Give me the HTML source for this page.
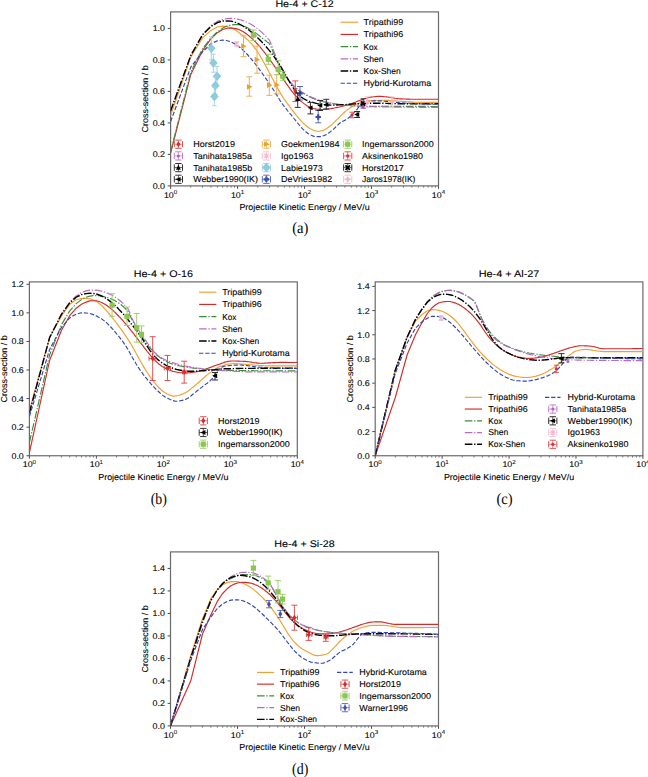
<!DOCTYPE html><html><head><meta charset="utf-8"><style>html,body{margin:0;padding:0;background:#fff;width:648px;height:777px;overflow:hidden}</style></head><body><svg width="648" height="777" viewBox="0 0 648 777" style="position:absolute;left:0;top:0;text-rendering:geometricPrecision" font-family='"Liberation Sans", sans-serif'>
<rect width="648" height="777" fill="#fff"/>
<line x1="167.7" y1="185.90" x2="170.6" y2="185.90" stroke="#333" stroke-width="0.9"/>
<text x="165.00" y="188.90" font-size="8.37" text-anchor="end" textLength="12.33" lengthAdjust="spacingAndGlyphs" fill="#000" stroke="#000" stroke-width="0.1" >0.0</text>
<line x1="167.7" y1="154.41" x2="170.6" y2="154.41" stroke="#333" stroke-width="0.9"/>
<text x="165.00" y="157.41" font-size="8.37" text-anchor="end" textLength="12.33" lengthAdjust="spacingAndGlyphs" fill="#000" stroke="#000" stroke-width="0.1" >0.2</text>
<line x1="167.7" y1="122.91" x2="170.6" y2="122.91" stroke="#333" stroke-width="0.9"/>
<text x="165.00" y="125.91" font-size="8.37" text-anchor="end" textLength="12.33" lengthAdjust="spacingAndGlyphs" fill="#000" stroke="#000" stroke-width="0.1" >0.4</text>
<line x1="167.7" y1="91.42" x2="170.6" y2="91.42" stroke="#333" stroke-width="0.9"/>
<text x="165.00" y="94.42" font-size="8.37" text-anchor="end" textLength="12.33" lengthAdjust="spacingAndGlyphs" fill="#000" stroke="#000" stroke-width="0.1" >0.6</text>
<line x1="167.7" y1="59.93" x2="170.6" y2="59.93" stroke="#333" stroke-width="0.9"/>
<text x="165.00" y="62.93" font-size="8.37" text-anchor="end" textLength="12.33" lengthAdjust="spacingAndGlyphs" fill="#000" stroke="#000" stroke-width="0.1" >0.8</text>
<line x1="167.7" y1="28.43" x2="170.6" y2="28.43" stroke="#333" stroke-width="0.9"/>
<text x="165.00" y="31.43" font-size="8.37" text-anchor="end" textLength="12.33" lengthAdjust="spacingAndGlyphs" fill="#000" stroke="#000" stroke-width="0.1" >1.0</text>
<line x1="170.60" y1="185.9" x2="170.60" y2="188.8" stroke="#333" stroke-width="0.9"/>
<text x="163.98" y="197.60" font-size="8.32" text-anchor="start" textLength="9.80" lengthAdjust="spacingAndGlyphs" fill="#000" stroke="#000" stroke-width="0.1" >10</text>
<text x="173.78" y="194.40" font-size="5.83" text-anchor="start" textLength="3.44" lengthAdjust="spacingAndGlyphs" fill="#000" stroke="#000" stroke-width="0.05" >0</text>
<line x1="190.76" y1="185.9" x2="190.76" y2="187.70000000000002" stroke="#444" stroke-width="0.7"/>
<line x1="202.56" y1="185.9" x2="202.56" y2="187.70000000000002" stroke="#444" stroke-width="0.7"/>
<line x1="210.92" y1="185.9" x2="210.92" y2="187.70000000000002" stroke="#444" stroke-width="0.7"/>
<line x1="217.41" y1="185.9" x2="217.41" y2="187.70000000000002" stroke="#444" stroke-width="0.7"/>
<line x1="222.72" y1="185.9" x2="222.72" y2="187.70000000000002" stroke="#444" stroke-width="0.7"/>
<line x1="227.20" y1="185.9" x2="227.20" y2="187.70000000000002" stroke="#444" stroke-width="0.7"/>
<line x1="231.08" y1="185.9" x2="231.08" y2="187.70000000000002" stroke="#444" stroke-width="0.7"/>
<line x1="234.51" y1="185.9" x2="234.51" y2="187.70000000000002" stroke="#444" stroke-width="0.7"/>
<line x1="237.57" y1="185.9" x2="237.57" y2="188.8" stroke="#333" stroke-width="0.9"/>
<text x="230.96" y="197.60" font-size="8.32" text-anchor="start" textLength="9.80" lengthAdjust="spacingAndGlyphs" fill="#000" stroke="#000" stroke-width="0.1" >10</text>
<text x="240.76" y="194.40" font-size="5.83" text-anchor="start" textLength="3.44" lengthAdjust="spacingAndGlyphs" fill="#000" stroke="#000" stroke-width="0.05" >1</text>
<line x1="257.74" y1="185.9" x2="257.74" y2="187.70000000000002" stroke="#444" stroke-width="0.7"/>
<line x1="269.53" y1="185.9" x2="269.53" y2="187.70000000000002" stroke="#444" stroke-width="0.7"/>
<line x1="277.90" y1="185.9" x2="277.90" y2="187.70000000000002" stroke="#444" stroke-width="0.7"/>
<line x1="284.39" y1="185.9" x2="284.39" y2="187.70000000000002" stroke="#444" stroke-width="0.7"/>
<line x1="289.69" y1="185.9" x2="289.69" y2="187.70000000000002" stroke="#444" stroke-width="0.7"/>
<line x1="294.18" y1="185.9" x2="294.18" y2="187.70000000000002" stroke="#444" stroke-width="0.7"/>
<line x1="298.06" y1="185.9" x2="298.06" y2="187.70000000000002" stroke="#444" stroke-width="0.7"/>
<line x1="301.49" y1="185.9" x2="301.49" y2="187.70000000000002" stroke="#444" stroke-width="0.7"/>
<line x1="304.55" y1="185.9" x2="304.55" y2="188.8" stroke="#333" stroke-width="0.9"/>
<text x="297.93" y="197.60" font-size="8.32" text-anchor="start" textLength="9.80" lengthAdjust="spacingAndGlyphs" fill="#000" stroke="#000" stroke-width="0.1" >10</text>
<text x="307.73" y="194.40" font-size="5.83" text-anchor="start" textLength="3.44" lengthAdjust="spacingAndGlyphs" fill="#000" stroke="#000" stroke-width="0.05" >2</text>
<line x1="324.71" y1="185.9" x2="324.71" y2="187.70000000000002" stroke="#444" stroke-width="0.7"/>
<line x1="336.51" y1="185.9" x2="336.51" y2="187.70000000000002" stroke="#444" stroke-width="0.7"/>
<line x1="344.87" y1="185.9" x2="344.87" y2="187.70000000000002" stroke="#444" stroke-width="0.7"/>
<line x1="351.36" y1="185.9" x2="351.36" y2="187.70000000000002" stroke="#444" stroke-width="0.7"/>
<line x1="356.67" y1="185.9" x2="356.67" y2="187.70000000000002" stroke="#444" stroke-width="0.7"/>
<line x1="361.15" y1="185.9" x2="361.15" y2="187.70000000000002" stroke="#444" stroke-width="0.7"/>
<line x1="365.03" y1="185.9" x2="365.03" y2="187.70000000000002" stroke="#444" stroke-width="0.7"/>
<line x1="368.46" y1="185.9" x2="368.46" y2="187.70000000000002" stroke="#444" stroke-width="0.7"/>
<line x1="371.52" y1="185.9" x2="371.52" y2="188.8" stroke="#333" stroke-width="0.9"/>
<text x="364.91" y="197.60" font-size="8.32" text-anchor="start" textLength="9.80" lengthAdjust="spacingAndGlyphs" fill="#000" stroke="#000" stroke-width="0.1" >10</text>
<text x="374.71" y="194.40" font-size="5.83" text-anchor="start" textLength="3.44" lengthAdjust="spacingAndGlyphs" fill="#000" stroke="#000" stroke-width="0.05" >3</text>
<line x1="391.69" y1="185.9" x2="391.69" y2="187.70000000000002" stroke="#444" stroke-width="0.7"/>
<line x1="403.48" y1="185.9" x2="403.48" y2="187.70000000000002" stroke="#444" stroke-width="0.7"/>
<line x1="411.85" y1="185.9" x2="411.85" y2="187.70000000000002" stroke="#444" stroke-width="0.7"/>
<line x1="418.34" y1="185.9" x2="418.34" y2="187.70000000000002" stroke="#444" stroke-width="0.7"/>
<line x1="423.64" y1="185.9" x2="423.64" y2="187.70000000000002" stroke="#444" stroke-width="0.7"/>
<line x1="428.13" y1="185.9" x2="428.13" y2="187.70000000000002" stroke="#444" stroke-width="0.7"/>
<line x1="432.01" y1="185.9" x2="432.01" y2="187.70000000000002" stroke="#444" stroke-width="0.7"/>
<line x1="435.44" y1="185.9" x2="435.44" y2="187.70000000000002" stroke="#444" stroke-width="0.7"/>
<line x1="438.50" y1="185.9" x2="438.50" y2="188.8" stroke="#333" stroke-width="0.9"/>
<text x="431.88" y="197.60" font-size="8.32" text-anchor="start" textLength="9.80" lengthAdjust="spacingAndGlyphs" fill="#000" stroke="#000" stroke-width="0.1" >10</text>
<text x="441.68" y="194.40" font-size="5.83" text-anchor="start" textLength="3.44" lengthAdjust="spacingAndGlyphs" fill="#000" stroke="#000" stroke-width="0.05" >4</text>
<rect x="170.6" y="11.9" width="267.9" height="174.0" fill="none" stroke="#6A6A6A" stroke-width="1.2"/>
<text x="304.55" y="6.90" font-size="9.64" text-anchor="middle" textLength="58.30" lengthAdjust="spacingAndGlyphs" fill="#000" stroke="#000" stroke-width="0.1" >He-4 + C-12</text>
<text x="304.55" y="209.70" font-size="8.64" text-anchor="middle" textLength="130.30" lengthAdjust="spacingAndGlyphs" fill="#000" stroke="#000" stroke-width="0.1" >Projectile Kinetic Energy / MeV/u</text>
<g transform="translate(148.10,98.90) rotate(-90)">
<text x="0.00" y="0.00" font-size="8.64" text-anchor="middle" textLength="67.20" lengthAdjust="spacingAndGlyphs" fill="#000" stroke="#000" stroke-width="0.1" >Cross-section / b</text>
</g>
<text x="300.3" y="233.2" font-family="'Liberation Serif', serif" font-size="16.0" text-anchor="middle" textLength="16.2" lengthAdjust="spacingAndGlyphs">(a)</text>
<clipPath id="ca"><rect x="170.6" y="11.9" width="267.9" height="174.0"/></clipPath><g clip-path="url(#ca)">
<path d="M170.6,115.5 L190.8,57.0 L202.6,37.9 L210.9,30.4 L217.4,27.0 L222.7,26.1 L227.2,26.6 L231.1,27.8 L234.5,29.6 L237.6,31.6 L240.3,33.7 L242.9,35.8 L245.2,37.8 L247.4,39.7 L249.4,41.6 L250.4,42.6 L251.4,43.7 L252.4,44.8 L253.4,46.1 L254.4,47.4 L255.4,48.8 L256.4,50.2 L257.4,51.7 L258.4,53.2 L259.4,54.8 L260.4,56.5 L261.4,58.2 L262.4,59.9 L263.4,61.7 L264.4,63.5 L265.4,65.3 L266.4,67.1 L267.4,69.0 L268.4,70.9 L269.4,72.8 L270.4,74.6 L271.4,76.6 L272.4,78.5 L273.4,80.3 L274.4,82.2 L275.4,84.1 L276.4,86.0 L277.4,87.8 L278.4,89.6 L279.4,91.4 L280.4,93.1 L281.4,94.8 L282.4,96.4 L283.4,98.0 L284.4,99.5 L285.4,100.9 L286.4,102.2 L287.4,103.6 L288.4,104.9 L289.4,106.3 L290.4,107.6 L291.4,109.0 L292.4,110.3 L293.4,111.6 L294.4,112.9 L295.4,114.2 L296.4,115.5 L297.4,116.7 L298.4,117.9 L299.4,119.1 L300.4,120.2 L301.4,121.3 L302.4,122.3 L303.4,123.3 L304.4,124.2 L305.4,125.2 L306.4,126.0 L307.4,126.8 L308.4,127.5 L309.4,128.2 L310.4,128.8 L311.4,129.3 L312.4,129.8 L313.4,130.3 L314.4,130.6 L315.4,130.8 L316.4,131.0 L317.4,131.2 L318.4,131.2 L319.4,131.2 L320.4,131.0 L321.4,130.8 L322.4,130.6 L323.4,130.3 L324.4,129.8 L325.4,129.3 L326.4,128.6 L327.4,128.0 L328.4,127.2 L329.4,126.5 L330.4,125.8 L331.4,125.0 L332.4,124.1 L333.4,123.1 L334.4,122.1 L335.4,121.1 L336.4,120.1 L337.4,119.1 L338.4,118.2 L339.4,117.2 L340.4,116.2 L341.4,115.2 L342.4,114.2 L343.4,113.2 L344.4,112.3 L345.4,111.4 L346.4,110.6 L347.4,109.8 L348.4,109.1 L349.4,108.3 L350.4,107.7 L351.4,107.0 L352.4,106.4 L353.4,105.8 L354.4,105.2 L355.4,104.8 L356.4,104.3 L357.4,103.9 L358.4,103.5 L359.4,103.1 L360.4,102.7 L361.4,102.4 L362.4,102.2 L363.4,101.9 L364.4,101.7 L365.4,101.5 L366.4,101.3 L367.4,101.1 L368.4,100.9 L369.4,100.8 L370.4,100.7 L371.4,100.6 L372.4,100.5 L373.4,100.4 L374.4,100.3 L375.4,100.3 L376.4,100.2 L377.4,100.2 L378.4,100.2 L379.4,100.2 L380.4,100.2 L381.4,100.2 L382.4,100.2 L383.4,100.2 L384.4,100.3 L385.4,100.3 L386.4,100.4 L387.4,100.4 L388.4,100.4 L389.4,100.5 L390.4,100.5 L391.4,100.6 L392.4,100.7 L393.4,100.7 L394.4,100.8 L395.4,100.9 L396.4,101.0 L397.4,101.1 L398.4,101.2 L399.4,101.2 L400.4,101.3 L401.4,101.4 L402.4,101.5 L403.4,101.5 L404.4,101.6 L405.4,101.6 L406.4,101.7 L407.4,101.8 L408.4,101.8 L409.4,101.9 L410.4,101.9 L411.4,102.0 L412.4,102.1 L413.4,102.1 L414.4,102.1 L415.4,102.2 L416.4,102.2 L417.4,102.2 L418.4,102.3 L419.4,102.3 L420.4,102.3 L421.4,102.3 L422.4,102.3 L423.4,102.3 L424.4,102.3 L425.4,102.3 L426.4,102.3 L427.4,102.3 L428.4,102.3 L429.4,102.3 L430.4,102.3 L431.4,102.3 L432.4,102.3 L433.4,102.3 L434.4,102.3 L435.4,102.3 L436.4,102.3 L437.4,102.3 L438.4,102.3 L438.5,102.3" fill="none" stroke="#F0A030" stroke-width="1.15" stroke-linejoin="round"/>
<path d="M170.6,153.0 L190.8,74.4 L202.6,50.5 L210.9,38.9 L217.4,32.7 L222.7,29.5 L227.2,28.2 L231.1,28.0 L234.5,28.4 L237.6,29.1 L240.3,30.3 L242.9,31.6 L245.2,33.1 L247.4,34.6 L249.4,36.2 L250.4,37.1 L251.4,38.0 L252.4,38.9 L253.4,39.8 L254.4,40.8 L255.4,41.8 L256.4,42.9 L257.4,44.0 L258.4,45.1 L259.4,46.2 L260.4,47.4 L261.4,48.6 L262.4,49.8 L263.4,51.0 L264.4,52.3 L265.4,53.6 L266.4,54.9 L267.4,56.3 L268.4,57.6 L269.4,59.0 L270.4,60.4 L271.4,61.8 L272.4,63.2 L273.4,64.7 L274.4,66.1 L275.4,67.6 L276.4,69.0 L277.4,70.5 L278.4,72.0 L279.4,73.4 L280.4,74.9 L281.4,76.4 L282.4,77.9 L283.4,79.4 L284.4,80.8 L285.4,82.2 L286.4,83.7 L287.4,85.1 L288.4,86.5 L289.4,87.9 L290.4,89.3 L291.4,90.6 L292.4,91.9 L293.4,93.1 L294.4,94.4 L295.4,95.5 L296.4,96.6 L297.4,97.7 L298.4,98.7 L299.4,99.7 L300.4,100.7 L301.4,101.6 L302.4,102.4 L303.4,103.1 L304.4,103.9 L305.4,104.6 L306.4,105.3 L307.4,105.9 L308.4,106.4 L309.4,106.9 L310.4,107.4 L311.4,107.8 L312.4,108.2 L313.4,108.6 L314.4,108.8 L315.4,108.9 L316.4,109.1 L317.4,109.2 L318.4,109.3 L319.4,109.3 L320.4,109.4 L321.4,109.5 L322.4,109.5 L323.4,109.5 L324.4,109.5 L325.4,109.5 L326.4,109.4 L327.4,109.3 L328.4,109.2 L329.4,109.0 L330.4,108.8 L331.4,108.6 L332.4,108.4 L333.4,108.2 L334.4,108.0 L335.4,107.8 L336.4,107.6 L337.4,107.4 L338.4,107.2 L339.4,107.0 L340.4,106.8 L341.4,106.5 L342.4,106.3 L343.4,106.0 L344.4,105.8 L345.4,105.5 L346.4,105.2 L347.4,104.9 L348.4,104.6 L349.4,104.3 L350.4,104.0 L351.4,103.7 L352.4,103.3 L353.4,102.9 L354.4,102.6 L355.4,102.2 L356.4,101.8 L357.4,101.3 L358.4,100.9 L359.4,100.6 L360.4,100.2 L361.4,99.8 L362.4,99.5 L363.4,99.2 L364.4,98.8 L365.4,98.5 L366.4,98.2 L367.4,97.9 L368.4,97.7 L369.4,97.4 L370.4,97.3 L371.4,97.1 L372.4,97.0 L373.4,96.8 L374.4,96.7 L375.4,96.6 L376.4,96.5 L377.4,96.4 L378.4,96.4 L379.4,96.4 L380.4,96.4 L381.4,96.4 L382.4,96.5 L383.4,96.6 L384.4,96.7 L385.4,96.8 L386.4,96.9 L387.4,97.0 L388.4,97.1 L389.4,97.3 L390.4,97.4 L391.4,97.6 L392.4,97.8 L393.4,98.0 L394.4,98.2 L395.4,98.3 L396.4,98.5 L397.4,98.6 L398.4,98.7 L399.4,98.8 L400.4,98.8 L401.4,98.9 L402.4,98.9 L403.4,99.0 L404.4,99.0 L405.4,99.0 L406.4,99.1 L407.4,99.1 L408.4,99.1 L409.4,99.1 L410.4,99.2 L411.4,99.2 L412.4,99.2 L413.4,99.2 L414.4,99.2 L415.4,99.2 L416.4,99.2 L417.4,99.2 L418.4,99.2 L419.4,99.2 L420.4,99.2 L421.4,99.2 L422.4,99.2 L423.4,99.2 L424.4,99.2 L425.4,99.2 L426.4,99.2 L427.4,99.2 L428.4,99.2 L429.4,99.2 L430.4,99.2 L431.4,99.2 L432.4,99.2 L433.4,99.2 L434.4,99.2 L435.4,99.2 L436.4,99.2 L437.4,99.2 L438.4,99.2 L438.5,99.2" fill="none" stroke="#D42A2A" stroke-width="1.15" stroke-linejoin="round"/>
<path d="M170.6,152.0 L190.8,72.0 L202.6,48.7 L210.9,37.9 L217.4,31.8 L222.7,28.1 L227.2,26.0 L231.1,25.0 L234.5,24.6 L237.6,24.6 L240.3,25.1 L242.9,25.8 L245.2,26.7 L247.4,27.8 L249.4,28.9 L250.4,29.5 L251.4,30.1 L252.4,30.7 L253.4,31.4 L254.4,32.1 L255.4,32.8 L256.4,33.6 L257.4,34.3 L258.4,35.1 L259.4,35.8 L260.4,36.6 L261.4,37.4 L262.4,38.2 L263.4,39.0 L264.4,39.8 L265.4,40.5 L266.4,41.3 L267.4,42.1 L268.4,42.8 L269.4,43.6 L269.5,43.7 L270.4,45.5 L271.4,47.8 L272.4,50.2 L273.4,52.7 L274.4,55.1 L275.4,57.3 L276.4,59.5 L277.4,61.6 L278.4,63.6 L279.4,65.7 L280.4,67.6 L281.4,69.5 L282.4,71.2 L283.4,72.9 L284.4,74.6 L285.4,76.1 L286.4,77.6 L287.4,78.9 L288.4,80.2 L289.4,81.4 L290.4,82.6 L291.4,83.7 L292.4,84.8 L293.4,85.8 L294.4,86.8 L295.4,87.6 L296.4,88.5 L297.4,89.3 L298.4,90.1 L299.4,90.8 L300.4,91.5 L301.4,92.2 L302.4,92.8 L303.4,93.5 L304.4,94.1 L305.4,94.6 L306.4,95.2 L307.4,95.7 L308.4,96.2 L309.4,96.7 L310.4,97.2 L311.4,97.7 L312.4,98.1 L313.4,98.5 L314.4,98.9 L315.4,99.3 L316.4,99.6 L317.4,100.0 L318.4,100.3 L319.4,100.6 L320.4,100.9 L321.4,101.2 L322.4,101.5 L323.4,101.8 L324.4,102.0 L325.4,102.3 L326.4,102.5 L327.4,102.7 L328.4,102.9 L329.4,103.1 L330.4,103.3 L331.4,103.5 L332.4,103.6 L333.4,103.8 L334.4,104.0 L335.4,104.1 L336.4,104.2 L337.4,104.4 L338.4,104.5 L339.4,104.6 L340.4,104.7 L341.4,104.8 L342.4,104.9 L343.4,105.0 L344.4,105.1 L345.4,105.2 L346.4,105.3 L347.4,105.3 L348.4,105.4 L349.4,105.5 L350.4,105.6 L351.4,105.7 L352.4,105.7 L353.4,105.8 L354.4,105.9 L355.4,105.9 L356.4,106.0 L357.4,106.1 L358.4,106.1 L359.4,106.1 L360.4,106.2 L361.4,106.2 L362.4,106.2 L363.4,106.3 L364.4,106.3 L365.4,106.3 L366.4,106.3 L367.4,106.3 L368.4,106.3 L369.4,106.3 L370.4,106.3 L371.4,106.3 L372.4,106.3 L373.4,106.3 L374.4,106.3 L375.4,106.3 L376.4,106.3 L377.4,106.3 L378.4,106.3 L379.4,106.3 L380.4,106.3 L381.4,106.3 L382.4,106.3 L383.4,106.3 L384.4,106.3 L385.4,106.3 L386.4,106.3 L387.4,106.3 L388.4,106.3 L389.4,106.3 L390.4,106.3 L391.4,106.3 L392.4,106.3 L393.4,106.3 L394.4,106.3 L395.4,106.3 L396.4,106.3 L397.4,106.3 L398.4,106.3 L399.4,106.3 L400.4,106.3 L401.4,106.3 L402.4,106.3 L403.4,106.3 L404.4,106.3 L405.4,106.3 L406.4,106.3 L407.4,106.3 L408.4,106.3 L409.4,106.3 L410.4,106.3 L411.4,106.3 L412.4,106.3 L413.4,106.3 L414.4,106.3 L415.4,106.4 L416.4,106.4 L417.4,106.4 L418.4,106.4 L419.4,106.4 L420.4,106.4 L421.4,106.4 L422.4,106.4 L423.4,106.4 L424.4,106.4 L425.4,106.4 L426.4,106.4 L427.4,106.4 L428.4,106.4 L429.4,106.5 L430.4,106.5 L431.4,106.5 L432.4,106.5 L433.4,106.5 L434.4,106.5 L435.4,106.5 L436.4,106.5 L437.4,106.5 L438.4,106.5 L438.5,106.5" fill="none" stroke="#3C8D3C" stroke-width="1.15" stroke-dasharray="7.6,1.7,1.3,1.7" stroke-linejoin="round"/>
<path d="M170.6,111.0 L190.8,55.5 L202.6,34.6 L210.9,25.6 L217.4,21.4 L222.7,19.4 L227.2,18.5 L231.1,18.4 L234.5,18.5 L237.6,19.1 L240.3,19.8 L242.9,20.6 L245.2,21.5 L247.4,22.4 L249.4,23.5 L250.4,24.0 L251.4,24.6 L252.4,25.2 L253.4,25.8 L254.4,26.5 L255.4,27.2 L256.4,27.9 L257.4,28.7 L258.4,29.4 L259.4,30.3 L260.4,31.1 L261.4,32.0 L262.4,32.9 L263.4,33.9 L264.4,34.8 L265.4,35.8 L266.4,36.9 L267.4,37.9 L268.4,39.1 L269.4,40.2 L269.5,40.5 L270.4,42.3 L271.4,44.8 L272.4,47.4 L273.4,50.1 L274.4,52.7 L275.4,55.2 L276.4,57.7 L277.4,60.1 L278.4,62.4 L279.4,64.6 L280.4,66.7 L281.4,68.6 L282.4,70.5 L283.4,72.3 L284.4,74.0 L285.4,75.6 L286.4,77.1 L287.4,78.5 L288.4,79.8 L289.4,81.0 L290.4,82.2 L291.4,83.3 L292.4,84.4 L293.4,85.4 L294.4,86.4 L295.4,87.3 L296.4,88.1 L297.4,88.9 L298.4,89.6 L299.4,90.3 L300.4,91.0 L301.4,91.7 L302.4,92.3 L303.4,92.9 L304.4,93.5 L305.4,94.1 L306.4,94.6 L307.4,95.1 L308.4,95.6 L309.4,96.1 L310.4,96.6 L311.4,97.1 L312.4,97.5 L313.4,97.9 L314.4,98.3 L315.4,98.7 L316.4,99.1 L317.4,99.4 L318.4,99.8 L319.4,100.1 L320.4,100.4 L321.4,100.7 L322.4,101.0 L323.4,101.2 L324.4,101.5 L325.4,101.8 L326.4,102.0 L327.4,102.2 L328.4,102.5 L329.4,102.7 L330.4,102.9 L331.4,103.1 L332.4,103.2 L333.4,103.4 L334.4,103.6 L335.4,103.7 L336.4,103.9 L337.4,104.0 L338.4,104.2 L339.4,104.3 L340.4,104.4 L341.4,104.6 L342.4,104.7 L343.4,104.8 L344.4,104.9 L345.4,105.0 L346.4,105.1 L347.4,105.2 L348.4,105.3 L349.4,105.4 L350.4,105.5 L351.4,105.6 L352.4,105.7 L353.4,105.8 L354.4,105.9 L355.4,105.9 L356.4,106.0 L357.4,106.1 L358.4,106.2 L359.4,106.2 L360.4,106.3 L361.4,106.4 L362.4,106.4 L363.4,106.5 L364.4,106.5 L365.4,106.5 L366.4,106.6 L367.4,106.6 L368.4,106.6 L369.4,106.6 L370.4,106.7 L371.4,106.7 L372.4,106.7 L373.4,106.7 L374.4,106.8 L375.4,106.8 L376.4,106.8 L377.4,106.8 L378.4,106.8 L379.4,106.9 L380.4,106.9 L381.4,106.9 L382.4,106.9 L383.4,106.9 L384.4,106.9 L385.4,107.0 L386.4,107.0 L387.4,107.0 L388.4,107.0 L389.4,107.0 L390.4,107.0 L391.4,107.0 L392.4,107.1 L393.4,107.1 L394.4,107.1 L395.4,107.1 L396.4,107.1 L397.4,107.1 L398.4,107.1 L399.4,107.1 L400.4,107.1 L401.4,107.1 L402.4,107.2 L403.4,107.2 L404.4,107.2 L405.4,107.2 L406.4,107.2 L407.4,107.2 L408.4,107.2 L409.4,107.2 L410.4,107.2 L411.4,107.2 L412.4,107.3 L413.4,107.3 L414.4,107.3 L415.4,107.3 L416.4,107.3 L417.4,107.3 L418.4,107.3 L419.4,107.3 L420.4,107.3 L421.4,107.3 L422.4,107.3 L423.4,107.3 L424.4,107.3 L425.4,107.3 L426.4,107.4 L427.4,107.4 L428.4,107.4 L429.4,107.4 L430.4,107.4 L431.4,107.4 L432.4,107.4 L433.4,107.4 L434.4,107.4 L435.4,107.4 L436.4,107.4 L437.4,107.4 L438.4,107.4 L438.5,107.4" fill="none" stroke="#BA6CC4" stroke-width="1.15" stroke-dasharray="7.6,1.7,1.3,1.7" stroke-linejoin="round"/>
<path d="M170.6,111.0 L190.8,55.5 L202.6,34.6 L210.9,26.5 L217.4,22.6 L222.7,21.0 L227.2,21.0 L231.1,21.1 L234.5,22.1 L237.6,23.2 L240.3,24.6 L242.9,26.0 L245.2,27.5 L247.4,29.0 L249.4,30.5 L250.4,31.3 L251.4,32.1 L252.4,33.0 L253.4,33.8 L254.4,34.7 L255.4,35.6 L256.4,36.6 L257.4,37.5 L258.4,38.5 L259.4,39.5 L260.4,40.5 L261.4,41.5 L262.4,42.6 L263.4,43.6 L264.4,44.7 L265.4,45.9 L266.4,47.0 L267.4,48.2 L268.4,49.4 L269.4,50.6 L270.4,51.8 L271.4,53.1 L272.4,54.4 L273.4,55.8 L274.4,57.1 L275.4,58.5 L276.4,60.0 L277.4,61.4 L278.4,63.0 L279.4,64.5 L280.4,66.1 L281.4,67.7 L282.4,69.3 L283.4,71.0 L284.4,72.7 L285.4,74.5 L286.4,76.3 L287.4,78.1 L288.4,79.8 L289.4,81.6 L290.4,83.3 L291.4,85.0 L292.4,86.6 L293.4,88.2 L294.4,89.7 L295.4,91.1 L296.4,92.4 L297.4,93.5 L298.4,94.6 L299.4,95.5 L300.4,96.4 L301.4,97.2 L302.4,97.9 L303.4,98.5 L304.4,99.1 L305.4,99.6 L306.4,100.1 L307.4,100.5 L308.4,100.9 L309.4,101.3 L310.4,101.7 L311.4,102.0 L312.4,102.3 L313.4,102.6 L314.4,102.9 L315.4,103.2 L316.4,103.4 L317.4,103.7 L318.4,103.9 L319.4,104.1 L320.4,104.2 L321.4,104.3 L322.4,104.4 L323.4,104.6 L324.4,104.7 L325.4,104.8 L326.4,104.8 L327.4,104.9 L328.4,105.0 L329.4,105.0 L330.4,105.1 L331.4,105.1 L332.4,105.1 L333.4,105.1 L334.4,105.1 L335.4,105.0 L336.4,105.0 L337.4,105.0 L338.4,104.9 L339.4,104.9 L340.4,104.8 L341.4,104.8 L342.4,104.7 L343.4,104.7 L344.4,104.6 L345.4,104.6 L346.4,104.5 L347.4,104.4 L348.4,104.4 L349.4,104.3 L350.4,104.2 L351.4,104.1 L352.4,104.0 L353.4,104.0 L354.4,103.9 L355.4,103.8 L356.4,103.8 L357.4,103.7 L358.4,103.7 L359.4,103.6 L360.4,103.6 L361.4,103.5 L362.4,103.5 L363.4,103.5 L364.4,103.4 L365.4,103.4 L366.4,103.4 L367.4,103.4 L368.4,103.4 L369.4,103.4 L370.4,103.3 L371.4,103.3 L372.4,103.3 L373.4,103.3 L374.4,103.3 L375.4,103.3 L376.4,103.3 L377.4,103.3 L378.4,103.3 L379.4,103.3 L380.4,103.3 L381.4,103.3 L382.4,103.3 L383.4,103.3 L384.4,103.4 L385.4,103.4 L386.4,103.4 L387.4,103.4 L388.4,103.5 L389.4,103.5 L390.4,103.5 L391.4,103.5 L392.4,103.6 L393.4,103.6 L394.4,103.6 L395.4,103.6 L396.4,103.7 L397.4,103.7 L398.4,103.7 L399.4,103.7 L400.4,103.7 L401.4,103.7 L402.4,103.7 L403.4,103.7 L404.4,103.8 L405.4,103.8 L406.4,103.8 L407.4,103.8 L408.4,103.8 L409.4,103.8 L410.4,103.8 L411.4,103.8 L412.4,103.8 L413.4,103.8 L414.4,103.8 L415.4,103.8 L416.4,103.8 L417.4,103.8 L418.4,103.8 L419.4,103.8 L420.4,103.8 L421.4,103.8 L422.4,103.8 L423.4,103.8 L424.4,103.8 L425.4,103.8 L426.4,103.8 L427.4,103.8 L428.4,103.8 L429.4,103.8 L430.4,103.8 L431.4,103.8 L432.4,103.8 L433.4,103.8 L434.4,103.8 L435.4,103.8 L436.4,103.8 L437.4,103.8 L438.4,103.8 L438.5,103.8" fill="none" stroke="#000000" stroke-width="1.4" stroke-dasharray="7.6,1.7,1.3,1.7" stroke-linejoin="round"/>
<path d="M170.6,121.5 L190.8,67.1 L202.6,51.8 L210.9,43.7 L217.4,40.8 L222.7,40.1 L227.2,40.7 L231.1,41.9 L234.5,43.7 L237.6,45.7 L240.3,47.8 L242.9,50.0 L245.2,52.3 L247.4,54.5 L249.4,56.8 L250.4,57.9 L251.4,59.1 L252.4,60.3 L253.4,61.5 L254.4,62.8 L255.4,64.0 L256.4,65.3 L257.4,66.7 L258.4,68.0 L259.4,69.4 L260.4,70.8 L261.4,72.2 L262.4,73.6 L263.4,75.0 L264.4,76.4 L265.4,77.9 L266.4,79.3 L267.4,80.8 L268.4,82.3 L269.4,83.7 L270.4,85.2 L271.4,86.7 L272.4,88.2 L273.4,89.7 L274.4,91.2 L275.4,92.8 L276.4,94.4 L277.4,96.1 L278.4,97.8 L279.4,99.5 L280.4,101.1 L281.4,102.6 L282.4,104.0 L283.4,105.4 L284.4,106.7 L285.4,108.0 L286.4,109.2 L287.4,110.5 L288.4,111.7 L289.4,112.9 L290.4,114.0 L291.4,115.2 L292.4,116.5 L293.4,117.7 L294.4,119.0 L295.4,120.2 L296.4,121.5 L297.4,122.7 L298.4,124.0 L299.4,125.2 L300.4,126.3 L301.4,127.5 L302.4,128.6 L303.4,129.6 L304.4,130.5 L305.4,131.4 L306.4,132.2 L307.4,133.0 L308.4,133.7 L309.4,134.3 L310.4,134.8 L311.4,135.3 L312.4,135.7 L313.4,136.1 L314.4,136.4 L315.4,136.6 L316.4,136.6 L317.4,136.6 L318.4,136.6 L319.4,136.6 L320.4,136.6 L321.4,136.4 L322.4,136.1 L323.4,135.8 L324.4,135.4 L325.4,135.0 L326.4,134.4 L327.4,133.8 L328.4,133.2 L329.4,132.4 L330.4,131.7 L331.4,130.9 L332.4,130.1 L333.4,129.3 L334.4,128.4 L335.4,127.4 L336.4,126.4 L337.4,125.4 L338.4,124.4 L339.4,123.5 L340.4,122.7 L341.4,122.1 L342.4,121.6 L343.4,121.0 L344.4,120.5 L345.4,120.0 L346.4,119.4 L347.4,118.7 L348.4,118.0 L349.4,117.2 L350.4,116.3 L351.4,115.3 L352.4,114.3 L353.4,113.3 L354.4,112.3 L355.4,111.2 L356.4,110.1 L357.4,108.8 L358.4,107.4 L359.4,106.1 L360.4,105.0 L361.4,104.2 L362.4,103.5 L363.4,103.0 L364.4,102.5 L365.4,102.1 L366.4,101.7 L367.4,101.5 L368.4,101.4 L369.4,101.2 L370.4,101.1 L371.4,101.0 L372.4,101.0 L373.4,100.9 L374.4,100.8 L375.4,100.8 L376.4,100.8 L377.4,100.8 L378.4,100.8 L379.4,100.8 L380.4,100.9 L381.4,100.9 L382.4,101.0 L383.4,101.1 L384.4,101.2 L385.4,101.3 L386.4,101.3 L387.4,101.4 L388.4,101.5 L389.4,101.6 L390.4,101.7 L391.4,101.8 L392.4,101.9 L393.4,102.1 L394.4,102.2 L395.4,102.3 L396.4,102.4 L397.4,102.5 L398.4,102.6 L399.4,102.7 L400.4,102.8 L401.4,102.8 L402.4,102.9 L403.4,103.0 L404.4,103.0 L405.4,103.1 L406.4,103.1 L407.4,103.2 L408.4,103.2 L409.4,103.3 L410.4,103.3 L411.4,103.4 L412.4,103.4 L413.4,103.5 L414.4,103.5 L415.4,103.6 L416.4,103.6 L417.4,103.6 L418.4,103.7 L419.4,103.7 L420.4,103.8 L421.4,103.8 L422.4,103.8 L423.4,103.9 L424.4,103.9 L425.4,103.9 L426.4,104.0 L427.4,104.0 L428.4,104.0 L429.4,104.1 L430.4,104.1 L431.4,104.1 L432.4,104.2 L433.4,104.2 L434.4,104.2 L435.4,104.2 L436.4,104.3 L437.4,104.3 L438.4,104.3 L438.5,104.3" fill="none" stroke="#3346B0" stroke-width="1.15" stroke-dasharray="4.3,1.85" stroke-linejoin="round"/>
<path d="M211.3,36.7 V59.9 M209.0,36.7 h4.6 M209.0,59.9 h4.6" stroke="#9ED3E2" stroke-width="0.95" fill="none"/>
<path d="M211.3,43.56999999999999 L215.60000000000002,48.3 L211.3,53.03 L207.0,48.3 Z" fill="#8ECCDD"/>
<path d="M213.4,54.2 V72.2 M211.1,54.2 h4.6 M211.1,72.2 h4.6" stroke="#9ED3E2" stroke-width="0.95" fill="none"/>
<path d="M213.4,58.269999999999996 L217.70000000000002,63 L213.4,67.73 L209.1,63 Z" fill="#8ECCDD"/>
<path d="M217,66.6 V86 M214.7,66.6 h4.6 M214.7,86 h4.6" stroke="#9ED3E2" stroke-width="0.95" fill="none"/>
<path d="M217,71.57 L221.3,76.3 L217,81.03 L212.7,76.3 Z" fill="#8ECCDD"/>
<path d="M215.4,77 V94 M213.1,77 h4.6 M213.1,94 h4.6" stroke="#9ED3E2" stroke-width="0.95" fill="none"/>
<path d="M215.4,80.86999999999999 L219.70000000000002,85.6 L215.4,90.33 L211.1,85.6 Z" fill="#8ECCDD"/>
<path d="M214.4,87.2 V105.7 M212.1,87.2 h4.6 M212.1,105.7 h4.6" stroke="#9ED3E2" stroke-width="0.95" fill="none"/>
<path d="M214.4,91.67 L218.70000000000002,96.4 L214.4,101.13000000000001 L210.1,96.4 Z" fill="#8ECCDD"/>
<path d="M236.7,41.7 V46.7 M234.39999999999998,41.7 h4.6 M234.39999999999998,46.7 h4.6" stroke="#F3C0D2" stroke-width="0.95" fill="none"/>
<path d="M234.5,41.8 L238.89999999999998,46.2 M238.89999999999998,41.8 L234.5,46.2 M236.7,41.36 L236.7,46.64" stroke="#F2B6CB" stroke-width="1.1"/>
<path d="M243.5,35.9 V56.6 M240.5,35.9 h6.0 M240.5,56.6 h6.0" stroke="#EEAE4D" stroke-width="0.95" fill="none"/>
<path d="M246.62,46.2 L241.16,43.34 L241.16,49.06 Z" fill="#EBA02E"/>
<path d="M257,46.2 V73.2 M254.0,46.2 h6.0 M254.0,73.2 h6.0" stroke="#EEAE4D" stroke-width="0.95" fill="none"/>
<path d="M260.12,59.7 L254.66,56.84 L254.66,62.56 Z" fill="#EBA02E"/>
<path d="M249.3,76.8 V96.2 M246.3,76.8 h6.0 M246.3,96.2 h6.0" stroke="#EEAE4D" stroke-width="0.95" fill="none"/>
<path d="M252.42000000000002,86.8 L246.96,83.94 L246.96,89.66 Z" fill="#EBA02E"/>
<path d="M269.3,75.1 V95.4 M266.3,75.1 h6.0 M266.3,95.4 h6.0" stroke="#EEAE4D" stroke-width="0.95" fill="none"/>
<path d="M272.42,85.2 L266.96000000000004,82.34 L266.96000000000004,88.06 Z" fill="#EBA02E"/>
<path d="M276.7,74.8 V93.9 M273.7,74.8 h6.0 M273.7,93.9 h6.0" stroke="#EEAE4D" stroke-width="0.95" fill="none"/>
<path d="M279.82,84.9 L274.36,82.04 L274.36,87.76 Z" fill="#EBA02E"/>
<path d="M253.4,30 V40.5 M250.4,30 h6.0 M250.4,40.5 h6.0" stroke="#9DCE6B" stroke-width="0.95" fill="none"/>
<rect x="250.8" y="32.4" width="5.2" height="5.2" fill="#8CC652"/>
<path d="M268.3,54.3 V64.3 M265.3,54.3 h6.0 M265.3,64.3 h6.0" stroke="#9DCE6B" stroke-width="0.95" fill="none"/>
<rect x="265.7" y="56.699999999999996" width="5.2" height="5.2" fill="#8CC652"/>
<path d="M278.2,60.6 V74.5 M275.2,60.6 h6.0 M275.2,74.5 h6.0" stroke="#9DCE6B" stroke-width="0.95" fill="none"/>
<rect x="275.59999999999997" y="66.9" width="5.2" height="5.2" fill="#8CC652"/>
<path d="M282.8,71.7 V80.3 M279.8,71.7 h6.0 M279.8,80.3 h6.0" stroke="#9DCE6B" stroke-width="0.95" fill="none"/>
<rect x="280.2" y="73.7" width="5.2" height="5.2" fill="#8CC652"/>
<path d="M295.3,80.9 V101.6 M292.3,80.9 h6.0 M292.3,101.6 h6.0" stroke="#DC4A4A" stroke-width="0.95" fill="none"/>
<path d="M295.3,87.8 L297.3,90.8 L295.3,93.8 L293.3,90.8 Z" fill="#D62B2B"/>
<path d="M300,86.5 V100 M297.0,86.5 h6.0 M297.0,100 h6.0" stroke="#5766B5" stroke-width="0.95" fill="none"/>
<path d="M298.92,90.8 h2.16 v1.62 h1.62 v2.16 h-1.62 v1.62 h-2.16 v-1.62 h-1.62 v-2.16 h1.62 Z" fill="#3A4BA8"/>
<path d="M318.2,110.5 V122.8 M315.2,110.5 h6.0 M315.2,122.8 h6.0" stroke="#5766B5" stroke-width="0.95" fill="none"/>
<path d="M317.12,114.3 h2.16 v1.62 h1.62 v2.16 h-1.62 v1.62 h-2.16 v-1.62 h-1.62 v-2.16 h1.62 Z" fill="#3A4BA8"/>
<path d="M297.7,93 V107.4 M294.7,93 h6.0 M294.7,107.4 h6.0" stroke="#262626" stroke-width="0.95" fill="none"/>
<path d="M297.7,96.02000000000001 L300.09999999999997,101.06 L295.3,101.06 Z" fill="#000000"/>
<path d="M310.4,102.4 V113.9 M307.4,102.4 h6.0 M307.4,113.9 h6.0" stroke="#262626" stroke-width="0.95" fill="none"/>
<path d="M307.52,107.8 L312.56,105.39999999999999 L312.56,110.2 Z" fill="#000000"/>
<path d="M320.1,100.5 V110.5 M317.1,100.5 h6.0 M317.1,110.5 h6.0" stroke="#262626" stroke-width="0.95" fill="none"/>
<path d="M317.22,105.4 L322.26000000000005,103.0 L322.26000000000005,107.80000000000001 Z" fill="#000000"/>
<path d="M326.3,99.3 V108.9 M323.3,99.3 h6.0 M323.3,108.9 h6.0" stroke="#262626" stroke-width="0.95" fill="none"/>
<path d="M323.42,104.7 L328.46000000000004,102.3 L328.46000000000004,107.10000000000001 Z" fill="#000000"/>
<path d="M357.1,111.5 V117.5 M354.1,111.5 h6.0 M354.1,117.5 h6.0" stroke="#262626" stroke-width="0.95" fill="none"/>
<path d="M354.22,114.5 L359.26000000000005,112.1 L359.26000000000005,116.9 Z" fill="#000000"/>
<path d="M352,112.2 V117.8 M349.5,112.2 h5.0 M349.5,117.8 h5.0" stroke="#E14F4F" stroke-width="0.95" fill="none"/>
<circle cx="352" cy="115" r="1.6" fill="#DC3030"/>
<path d="M363.1,98.8 V108 M360.6,98.8 h5.0 M360.6,108 h5.0" stroke="#262626" stroke-width="0.95" fill="none"/>
<path d="M360.90000000000003,101.2 L365.3,105.60000000000001 M365.3,101.2 L360.90000000000003,105.60000000000001" stroke="#000000" stroke-width="1.8"/>
<circle cx="364" cy="107.6" r="1.5" fill="#B25FC2"/>
<path d="M366.9,96.9 V107.6 M364.4,96.9 h5.0 M364.4,107.6 h5.0" stroke="#F3BECE" stroke-width="0.95" fill="none"/>
<path d="M365.94,99.6 h1.92 v1.44 h1.44 v1.92 h-1.44 v1.44 h-1.92 v-1.44 h-1.44 v-1.92 h1.44 Z" fill="#F2B3C6"/>
<path d="M391.9,96.9 V107.6 M389.4,96.9 h5.0 M389.4,107.6 h5.0" stroke="#F3BECE" stroke-width="0.95" fill="none"/>
<path d="M390.94,99.6 h1.92 v1.44 h1.44 v1.92 h-1.44 v1.44 h-1.92 v-1.44 h-1.44 v-1.92 h1.44 Z" fill="#F2B3C6"/>
</g>
<line x1="340.6" y1="22.2" x2="358" y2="22.2" stroke="#F0A030" stroke-width="1.15"/>
<text x="363.60" y="25.10" font-size="8.59" text-anchor="start" textLength="39.56" lengthAdjust="spacingAndGlyphs" fill="#000" stroke="#000" stroke-width="0.1" >Tripathi99</text>
<line x1="340.6" y1="34.4" x2="358" y2="34.4" stroke="#D42A2A" stroke-width="1.15"/>
<text x="363.60" y="37.30" font-size="8.59" text-anchor="start" textLength="39.56" lengthAdjust="spacingAndGlyphs" fill="#000" stroke="#000" stroke-width="0.1" >Tripathi96</text>
<line x1="340.6" y1="46.599999999999994" x2="358" y2="46.599999999999994" stroke="#3C8D3C" stroke-width="1.15" stroke-dasharray="7.6,1.7,1.3,1.7"/>
<text x="363.60" y="49.50" font-size="8.59" text-anchor="start" textLength="14.14" lengthAdjust="spacingAndGlyphs" fill="#000" stroke="#000" stroke-width="0.1" >Kox</text>
<line x1="340.6" y1="58.8" x2="358" y2="58.8" stroke="#BA6CC4" stroke-width="1.15" stroke-dasharray="7.6,1.7,1.3,1.7"/>
<text x="363.60" y="61.70" font-size="8.59" text-anchor="start" textLength="20.02" lengthAdjust="spacingAndGlyphs" fill="#000" stroke="#000" stroke-width="0.1" >Shen</text>
<line x1="340.6" y1="71.0" x2="358" y2="71.0" stroke="#000000" stroke-width="1.4" stroke-dasharray="7.6,1.7,1.3,1.7"/>
<text x="363.60" y="73.90" font-size="8.59" text-anchor="start" textLength="37.03" lengthAdjust="spacingAndGlyphs" fill="#000" stroke="#000" stroke-width="0.1" >Kox-Shen</text>
<line x1="340.6" y1="83.2" x2="358" y2="83.2" stroke="#3346B0" stroke-width="1.15" stroke-dasharray="4.3,1.85"/>
<text x="363.60" y="86.10" font-size="8.59" text-anchor="start" textLength="67.54" lengthAdjust="spacingAndGlyphs" fill="#000" stroke="#000" stroke-width="0.1" >Hybrid-Kurotama</text>
<path d="M174.3,144.2 H182.5 M178.4,140.1 V148.29999999999998" stroke="#DE5555" stroke-width="0.8" fill="none"/>
<path d="M175.20000000000002,140.1 H181.6 M175.20000000000002,148.29999999999998 H181.6 M174.3,141.0 V147.39999999999998 M182.5,141.0 V147.39999999999998" stroke="#DE5555" stroke-width="1" fill="none"/>
<path d="M178.4,141.2 L180.4,144.2 L178.4,147.2 L176.4,144.2 Z" fill="#D62B2B"/>
<text x="193.30" y="147.10" font-size="8.59" text-anchor="start" textLength="41.60" lengthAdjust="spacingAndGlyphs" fill="#000" stroke="#000" stroke-width="0.1" >Horst2019</text>
<path d="M174.3,155.9 H182.5 M178.4,151.8 V160.0" stroke="#C17FCE" stroke-width="0.8" fill="none"/>
<path d="M175.20000000000002,151.8 H181.6 M175.20000000000002,160.0 H181.6 M174.3,152.70000000000002 V159.1 M182.5,152.70000000000002 V159.1" stroke="#C17FCE" stroke-width="1" fill="none"/>
<circle cx="178.4" cy="155.9" r="1.5" fill="#B25FC2"/>
<text x="193.30" y="158.80" font-size="8.59" text-anchor="start" textLength="58.66" lengthAdjust="spacingAndGlyphs" fill="#000" stroke="#000" stroke-width="0.1" >Tanihata1985a</text>
<path d="M174.3,167.6 H182.5 M178.4,163.5 V171.7" stroke="#333333" stroke-width="0.8" fill="none"/>
<path d="M175.20000000000002,163.5 H181.6 M175.20000000000002,171.7 H181.6 M174.3,164.4 V170.79999999999998 M182.5,164.4 V170.79999999999998" stroke="#333333" stroke-width="1" fill="none"/>
<path d="M178.4,164.72 L180.8,169.76 L176.0,169.76 Z" fill="#000000"/>
<text x="193.30" y="170.50" font-size="8.59" text-anchor="start" textLength="58.84" lengthAdjust="spacingAndGlyphs" fill="#000" stroke="#000" stroke-width="0.1" >Tanihata1985b</text>
<path d="M174.3,179.3 H182.5 M178.4,175.20000000000002 V183.4" stroke="#333333" stroke-width="0.8" fill="none"/>
<path d="M175.20000000000002,175.20000000000002 H181.6 M175.20000000000002,183.4 H181.6 M174.3,176.10000000000002 V182.5 M182.5,176.10000000000002 V182.5" stroke="#333333" stroke-width="1" fill="none"/>
<path d="M175.52,179.3 L180.56,176.9 L180.56,181.70000000000002 Z" fill="#000000"/>
<text x="193.30" y="182.20" font-size="8.59" text-anchor="start" textLength="64.53" lengthAdjust="spacingAndGlyphs" fill="#000" stroke="#000" stroke-width="0.1" >Webber1990(IK)</text>
<path d="M262.29999999999995,144.2 H270.5 M266.4,140.1 V148.29999999999998" stroke="#EFB357" stroke-width="0.8" fill="none"/>
<path d="M263.19999999999993,140.1 H269.6 M263.19999999999993,148.29999999999998 H269.6 M262.29999999999995,141.0 V147.39999999999998 M270.5,141.0 V147.39999999999998" stroke="#EFB357" stroke-width="1" fill="none"/>
<path d="M269.52,144.2 L264.06,141.33999999999997 L264.06,147.06 Z" fill="#EBA02E"/>
<text x="281.00" y="147.10" font-size="8.59" text-anchor="start" textLength="58.43" lengthAdjust="spacingAndGlyphs" fill="#000" stroke="#000" stroke-width="0.1" >Goekmen1984</text>
<path d="M262.29999999999995,155.9 H270.5 M266.4,151.8 V160.0" stroke="#F4C4D5" stroke-width="0.8" fill="none"/>
<path d="M263.19999999999993,151.8 H269.6 M263.19999999999993,160.0 H269.6 M262.29999999999995,152.70000000000002 V159.1 M270.5,152.70000000000002 V159.1" stroke="#F4C4D5" stroke-width="1" fill="none"/>
<path d="M264.2,153.70000000000002 L268.59999999999997,158.1 M268.59999999999997,153.70000000000002 L264.2,158.1 M266.4,153.26000000000002 L266.4,158.54" stroke="#F2B6CB" stroke-width="1.1"/>
<text x="281.00" y="158.80" font-size="8.59" text-anchor="start" textLength="32.49" lengthAdjust="spacingAndGlyphs" fill="#000" stroke="#000" stroke-width="0.1" >Igo1963</text>
<path d="M262.29999999999995,167.6 H270.5 M266.4,163.5 V171.7" stroke="#A4D6E3" stroke-width="0.8" fill="none"/>
<path d="M263.19999999999993,163.5 H269.6 M263.19999999999993,171.7 H269.6 M262.29999999999995,164.4 V170.79999999999998 M270.5,164.4 V170.79999999999998" stroke="#A4D6E3" stroke-width="1" fill="none"/>
<path d="M266.4,162.87 L270.7,167.6 L266.4,172.32999999999998 L262.09999999999997,167.6 Z" fill="#8ECCDD"/>
<text x="281.00" y="170.50" font-size="8.59" text-anchor="start" textLength="41.68" lengthAdjust="spacingAndGlyphs" fill="#000" stroke="#000" stroke-width="0.1" >Labie1973</text>
<path d="M262.29999999999995,179.3 H270.5 M266.4,175.20000000000002 V183.4" stroke="#616FB9" stroke-width="0.8" fill="none"/>
<path d="M263.19999999999993,175.20000000000002 H269.6 M263.19999999999993,183.4 H269.6 M262.29999999999995,176.10000000000002 V182.5 M270.5,176.10000000000002 V182.5" stroke="#616FB9" stroke-width="1" fill="none"/>
<path d="M265.32,176.60000000000002 h2.16 v1.62 h1.62 v2.16 h-1.62 v1.62 h-2.16 v-1.62 h-1.62 v-2.16 h1.62 Z" fill="#3A4BA8"/>
<text x="281.00" y="182.20" font-size="8.59" text-anchor="start" textLength="51.19" lengthAdjust="spacingAndGlyphs" fill="#000" stroke="#000" stroke-width="0.1" >DeVries1982</text>
<path d="M343.59999999999997,144.2 H351.8 M347.7,140.1 V148.29999999999998" stroke="#A3D174" stroke-width="0.8" fill="none"/>
<path d="M344.49999999999994,140.1 H350.90000000000003 M344.49999999999994,148.29999999999998 H350.90000000000003 M343.59999999999997,141.0 V147.39999999999998 M351.8,141.0 V147.39999999999998" stroke="#A3D174" stroke-width="1" fill="none"/>
<rect x="345.09999999999997" y="141.6" width="5.2" height="5.2" fill="#8CC652"/>
<text x="362.10" y="147.10" font-size="8.59" text-anchor="start" textLength="71.63" lengthAdjust="spacingAndGlyphs" fill="#000" stroke="#000" stroke-width="0.1" >Ingemarsson2000</text>
<path d="M343.59999999999997,155.9 H351.8 M347.7,151.8 V160.0" stroke="#E35959" stroke-width="0.8" fill="none"/>
<path d="M344.49999999999994,151.8 H350.90000000000003 M344.49999999999994,160.0 H350.90000000000003 M343.59999999999997,152.70000000000002 V159.1 M351.8,152.70000000000002 V159.1" stroke="#E35959" stroke-width="1" fill="none"/>
<circle cx="347.7" cy="155.9" r="1.6" fill="#DC3030"/>
<text x="362.10" y="158.80" font-size="8.59" text-anchor="start" textLength="60.78" lengthAdjust="spacingAndGlyphs" fill="#000" stroke="#000" stroke-width="0.1" >Aksinenko1980</text>
<path d="M343.59999999999997,167.6 H351.8 M347.7,163.5 V171.7" stroke="#333333" stroke-width="0.8" fill="none"/>
<path d="M344.49999999999994,163.5 H350.90000000000003 M344.49999999999994,171.7 H350.90000000000003 M343.59999999999997,164.4 V170.79999999999998 M351.8,164.4 V170.79999999999998" stroke="#333333" stroke-width="1" fill="none"/>
<path d="M345.5,165.4 L349.9,169.79999999999998 M349.9,165.4 L345.5,169.79999999999998" stroke="#000000" stroke-width="1.8"/>
<text x="362.10" y="170.50" font-size="8.59" text-anchor="start" textLength="41.60" lengthAdjust="spacingAndGlyphs" fill="#000" stroke="#000" stroke-width="0.1" >Horst2017</text>
<path d="M343.59999999999997,179.3 H351.8 M347.7,175.20000000000002 V183.4" stroke="#F4C2D1" stroke-width="0.8" fill="none"/>
<path d="M344.49999999999994,175.20000000000002 H350.90000000000003 M344.49999999999994,183.4 H350.90000000000003 M343.59999999999997,176.10000000000002 V182.5 M351.8,176.10000000000002 V182.5" stroke="#F4C2D1" stroke-width="1" fill="none"/>
<path d="M346.74,176.9 h1.92 v1.44 h1.44 v1.92 h-1.44 v1.44 h-1.92 v-1.44 h-1.44 v-1.92 h1.44 Z" fill="#F2B3C6"/>
<text x="362.10" y="182.20" font-size="8.59" text-anchor="start" textLength="53.31" lengthAdjust="spacingAndGlyphs" fill="#000" stroke="#000" stroke-width="0.1" >Jaros1978(IK)</text>
<line x1="26.5" y1="455.75" x2="29.4" y2="455.75" stroke="#333" stroke-width="0.9"/>
<text x="23.80" y="458.75" font-size="8.37" text-anchor="end" textLength="12.33" lengthAdjust="spacingAndGlyphs" fill="#000" stroke="#000" stroke-width="0.1" >0.0</text>
<line x1="26.5" y1="427.17" x2="29.4" y2="427.17" stroke="#333" stroke-width="0.9"/>
<text x="23.80" y="430.17" font-size="8.37" text-anchor="end" textLength="12.33" lengthAdjust="spacingAndGlyphs" fill="#000" stroke="#000" stroke-width="0.1" >0.2</text>
<line x1="26.5" y1="398.59" x2="29.4" y2="398.59" stroke="#333" stroke-width="0.9"/>
<text x="23.80" y="401.59" font-size="8.37" text-anchor="end" textLength="12.33" lengthAdjust="spacingAndGlyphs" fill="#000" stroke="#000" stroke-width="0.1" >0.4</text>
<line x1="26.5" y1="370.01" x2="29.4" y2="370.01" stroke="#333" stroke-width="0.9"/>
<text x="23.80" y="373.01" font-size="8.37" text-anchor="end" textLength="12.33" lengthAdjust="spacingAndGlyphs" fill="#000" stroke="#000" stroke-width="0.1" >0.6</text>
<line x1="26.5" y1="341.43" x2="29.4" y2="341.43" stroke="#333" stroke-width="0.9"/>
<text x="23.80" y="344.43" font-size="8.37" text-anchor="end" textLength="12.33" lengthAdjust="spacingAndGlyphs" fill="#000" stroke="#000" stroke-width="0.1" >0.8</text>
<line x1="26.5" y1="312.85" x2="29.4" y2="312.85" stroke="#333" stroke-width="0.9"/>
<text x="23.80" y="315.85" font-size="8.37" text-anchor="end" textLength="12.33" lengthAdjust="spacingAndGlyphs" fill="#000" stroke="#000" stroke-width="0.1" >1.0</text>
<line x1="26.5" y1="284.27" x2="29.4" y2="284.27" stroke="#333" stroke-width="0.9"/>
<text x="23.80" y="287.27" font-size="8.37" text-anchor="end" textLength="12.33" lengthAdjust="spacingAndGlyphs" fill="#000" stroke="#000" stroke-width="0.1" >1.2</text>
<line x1="29.40" y1="455.75" x2="29.40" y2="458.65" stroke="#333" stroke-width="0.9"/>
<text x="22.78" y="467.45" font-size="8.32" text-anchor="start" textLength="9.80" lengthAdjust="spacingAndGlyphs" fill="#000" stroke="#000" stroke-width="0.1" >10</text>
<text x="32.58" y="464.25" font-size="5.83" text-anchor="start" textLength="3.44" lengthAdjust="spacingAndGlyphs" fill="#000" stroke="#000" stroke-width="0.05" >0</text>
<line x1="49.56" y1="455.75" x2="49.56" y2="457.55" stroke="#444" stroke-width="0.7"/>
<line x1="61.36" y1="455.75" x2="61.36" y2="457.55" stroke="#444" stroke-width="0.7"/>
<line x1="69.72" y1="455.75" x2="69.72" y2="457.55" stroke="#444" stroke-width="0.7"/>
<line x1="76.21" y1="455.75" x2="76.21" y2="457.55" stroke="#444" stroke-width="0.7"/>
<line x1="81.52" y1="455.75" x2="81.52" y2="457.55" stroke="#444" stroke-width="0.7"/>
<line x1="86.00" y1="455.75" x2="86.00" y2="457.55" stroke="#444" stroke-width="0.7"/>
<line x1="89.88" y1="455.75" x2="89.88" y2="457.55" stroke="#444" stroke-width="0.7"/>
<line x1="93.31" y1="455.75" x2="93.31" y2="457.55" stroke="#444" stroke-width="0.7"/>
<line x1="96.38" y1="455.75" x2="96.38" y2="458.65" stroke="#333" stroke-width="0.9"/>
<text x="89.76" y="467.45" font-size="8.32" text-anchor="start" textLength="9.80" lengthAdjust="spacingAndGlyphs" fill="#000" stroke="#000" stroke-width="0.1" >10</text>
<text x="99.56" y="464.25" font-size="5.83" text-anchor="start" textLength="3.44" lengthAdjust="spacingAndGlyphs" fill="#000" stroke="#000" stroke-width="0.05" >1</text>
<line x1="116.54" y1="455.75" x2="116.54" y2="457.55" stroke="#444" stroke-width="0.7"/>
<line x1="128.33" y1="455.75" x2="128.33" y2="457.55" stroke="#444" stroke-width="0.7"/>
<line x1="136.70" y1="455.75" x2="136.70" y2="457.55" stroke="#444" stroke-width="0.7"/>
<line x1="143.19" y1="455.75" x2="143.19" y2="457.55" stroke="#444" stroke-width="0.7"/>
<line x1="148.49" y1="455.75" x2="148.49" y2="457.55" stroke="#444" stroke-width="0.7"/>
<line x1="152.98" y1="455.75" x2="152.98" y2="457.55" stroke="#444" stroke-width="0.7"/>
<line x1="156.86" y1="455.75" x2="156.86" y2="457.55" stroke="#444" stroke-width="0.7"/>
<line x1="160.29" y1="455.75" x2="160.29" y2="457.55" stroke="#444" stroke-width="0.7"/>
<line x1="163.35" y1="455.75" x2="163.35" y2="458.65" stroke="#333" stroke-width="0.9"/>
<text x="156.73" y="467.45" font-size="8.32" text-anchor="start" textLength="9.80" lengthAdjust="spacingAndGlyphs" fill="#000" stroke="#000" stroke-width="0.1" >10</text>
<text x="166.53" y="464.25" font-size="5.83" text-anchor="start" textLength="3.44" lengthAdjust="spacingAndGlyphs" fill="#000" stroke="#000" stroke-width="0.05" >2</text>
<line x1="183.51" y1="455.75" x2="183.51" y2="457.55" stroke="#444" stroke-width="0.7"/>
<line x1="195.31" y1="455.75" x2="195.31" y2="457.55" stroke="#444" stroke-width="0.7"/>
<line x1="203.67" y1="455.75" x2="203.67" y2="457.55" stroke="#444" stroke-width="0.7"/>
<line x1="210.16" y1="455.75" x2="210.16" y2="457.55" stroke="#444" stroke-width="0.7"/>
<line x1="215.47" y1="455.75" x2="215.47" y2="457.55" stroke="#444" stroke-width="0.7"/>
<line x1="219.95" y1="455.75" x2="219.95" y2="457.55" stroke="#444" stroke-width="0.7"/>
<line x1="223.83" y1="455.75" x2="223.83" y2="457.55" stroke="#444" stroke-width="0.7"/>
<line x1="227.26" y1="455.75" x2="227.26" y2="457.55" stroke="#444" stroke-width="0.7"/>
<line x1="230.33" y1="455.75" x2="230.33" y2="458.65" stroke="#333" stroke-width="0.9"/>
<text x="223.71" y="467.45" font-size="8.32" text-anchor="start" textLength="9.80" lengthAdjust="spacingAndGlyphs" fill="#000" stroke="#000" stroke-width="0.1" >10</text>
<text x="233.51" y="464.25" font-size="5.83" text-anchor="start" textLength="3.44" lengthAdjust="spacingAndGlyphs" fill="#000" stroke="#000" stroke-width="0.05" >3</text>
<line x1="250.49" y1="455.75" x2="250.49" y2="457.55" stroke="#444" stroke-width="0.7"/>
<line x1="262.28" y1="455.75" x2="262.28" y2="457.55" stroke="#444" stroke-width="0.7"/>
<line x1="270.65" y1="455.75" x2="270.65" y2="457.55" stroke="#444" stroke-width="0.7"/>
<line x1="277.14" y1="455.75" x2="277.14" y2="457.55" stroke="#444" stroke-width="0.7"/>
<line x1="282.44" y1="455.75" x2="282.44" y2="457.55" stroke="#444" stroke-width="0.7"/>
<line x1="286.93" y1="455.75" x2="286.93" y2="457.55" stroke="#444" stroke-width="0.7"/>
<line x1="290.81" y1="455.75" x2="290.81" y2="457.55" stroke="#444" stroke-width="0.7"/>
<line x1="294.24" y1="455.75" x2="294.24" y2="457.55" stroke="#444" stroke-width="0.7"/>
<line x1="297.30" y1="455.75" x2="297.30" y2="458.65" stroke="#333" stroke-width="0.9"/>
<text x="290.68" y="467.45" font-size="8.32" text-anchor="start" textLength="9.80" lengthAdjust="spacingAndGlyphs" fill="#000" stroke="#000" stroke-width="0.1" >10</text>
<text x="300.48" y="464.25" font-size="5.83" text-anchor="start" textLength="3.44" lengthAdjust="spacingAndGlyphs" fill="#000" stroke="#000" stroke-width="0.05" >4</text>
<rect x="29.4" y="281.9" width="267.90000000000003" height="173.85000000000002" fill="none" stroke="#6A6A6A" stroke-width="1.2"/>
<text x="163.35" y="276.90" font-size="9.64" text-anchor="middle" textLength="59.41" lengthAdjust="spacingAndGlyphs" fill="#000" stroke="#000" stroke-width="0.1" >He-4 + O-16</text>
<text x="163.35" y="479.55" font-size="8.64" text-anchor="middle" textLength="130.30" lengthAdjust="spacingAndGlyphs" fill="#000" stroke="#000" stroke-width="0.1" >Projectile Kinetic Energy / MeV/u</text>
<g transform="translate(6.90,368.82) rotate(-90)">
<text x="0.00" y="0.00" font-size="8.64" text-anchor="middle" textLength="67.20" lengthAdjust="spacingAndGlyphs" fill="#000" stroke="#000" stroke-width="0.1" >Cross-section / b</text>
</g>
<text x="158.8" y="503.5" font-family="'Liberation Serif', serif" font-size="16.0" text-anchor="middle" textLength="16.2" lengthAdjust="spacingAndGlyphs">(b)</text>
<clipPath id="cb"><rect x="29.4" y="281.9" width="267.90000000000003" height="173.85000000000002"/></clipPath><g clip-path="url(#cb)">
<path d="M29.4,410.5 L49.6,337.4 L61.4,316.1 L69.7,304.2 L76.2,299.8 L81.5,298.5 L86.0,298.3 L89.9,298.8 L93.3,299.9 L96.4,301.4 L99.1,303.5 L101.7,305.6 L104.0,308.0 L106.2,310.4 L108.2,312.7 L109.2,313.9 L110.2,315.2 L111.2,316.4 L112.2,317.7 L113.2,318.9 L114.2,320.2 L115.2,321.5 L116.2,322.8 L117.2,324.1 L118.2,325.4 L119.2,326.7 L120.2,328.1 L121.2,329.4 L122.2,330.8 L123.2,332.2 L124.2,333.6 L125.2,335.1 L126.2,336.6 L127.2,338.1 L128.2,339.6 L129.2,341.2 L130.2,342.9 L131.2,344.5 L132.2,346.3 L133.2,348.1 L134.2,349.8 L135.2,351.6 L136.2,353.5 L137.2,355.3 L138.2,357.1 L139.2,359.0 L140.2,360.7 L141.2,362.5 L142.2,364.2 L143.2,365.9 L144.2,367.6 L145.2,369.3 L146.2,370.9 L147.2,372.5 L148.2,374.0 L149.2,375.4 L150.2,376.9 L151.2,378.3 L152.2,379.7 L153.2,381.0 L154.2,382.3 L155.2,383.5 L156.2,384.7 L157.2,385.8 L158.2,386.9 L159.2,388.0 L160.2,389.0 L161.2,390.0 L162.2,390.8 L163.2,391.6 L164.2,392.2 L165.2,392.8 L166.2,393.3 L167.2,393.9 L168.2,394.4 L169.2,394.9 L170.2,395.3 L171.2,395.7 L172.2,395.9 L173.2,396.1 L174.2,396.1 L175.2,396.0 L176.2,395.9 L177.2,395.7 L178.2,395.5 L179.2,395.2 L180.2,394.9 L181.2,394.5 L182.2,394.1 L183.2,393.7 L184.2,393.3 L185.2,392.9 L186.2,392.3 L187.2,391.7 L188.2,390.9 L189.2,390.2 L190.2,389.4 L191.2,388.6 L192.2,387.8 L193.2,387.0 L194.2,386.2 L195.2,385.3 L196.2,384.5 L197.2,383.6 L198.2,382.7 L199.2,381.8 L200.2,381.0 L201.2,380.1 L202.2,379.2 L203.2,378.3 L204.2,377.5 L205.2,376.6 L206.2,375.7 L207.2,374.9 L208.2,374.1 L209.2,373.3 L210.2,372.6 L211.2,371.9 L212.2,371.1 L213.2,370.4 L214.2,369.7 L215.2,369.0 L216.2,368.4 L217.2,367.8 L218.2,367.3 L219.2,366.8 L220.2,366.5 L221.2,366.1 L222.2,365.8 L223.2,365.5 L224.2,365.2 L225.2,364.9 L226.2,364.7 L227.2,364.4 L228.2,364.2 L229.2,364.0 L230.2,363.9 L231.2,363.7 L232.2,363.7 L233.2,363.6 L234.2,363.6 L235.2,363.7 L236.2,363.7 L237.2,363.7 L238.2,363.8 L239.2,363.9 L240.2,364.0 L241.2,364.0 L242.2,364.1 L243.2,364.2 L244.2,364.3 L245.2,364.4 L246.2,364.5 L247.2,364.6 L248.2,364.6 L249.2,364.7 L250.2,364.8 L251.2,364.9 L252.2,364.9 L253.2,365.0 L254.2,365.1 L255.2,365.2 L256.2,365.2 L257.2,365.3 L258.2,365.4 L259.2,365.5 L260.2,365.5 L261.2,365.6 L262.2,365.6 L263.2,365.7 L264.2,365.7 L265.2,365.8 L266.2,365.8 L267.2,365.8 L268.2,365.8 L269.2,365.8 L270.2,365.8 L271.2,365.8 L272.2,365.8 L273.2,365.8 L274.2,365.8 L275.2,365.8 L276.2,365.8 L277.2,365.8 L278.2,365.8 L279.2,365.8 L280.2,365.8 L281.2,365.8 L282.2,365.8 L283.2,365.8 L284.2,365.8 L285.2,365.8 L286.2,365.8 L287.2,365.8 L288.2,365.8 L289.2,365.8 L290.2,365.8 L291.2,365.8 L292.2,365.8 L293.2,365.8 L294.2,365.8 L295.2,365.8 L296.2,365.8 L297.2,365.8 L297.3,365.8" fill="none" stroke="#F0A030" stroke-width="1.15" stroke-linejoin="round"/>
<path d="M29.4,452.7 L49.6,360.5 L61.4,330.5 L69.7,315.7 L76.2,308.2 L81.5,304.3 L86.0,302.1 L89.9,300.9 L93.3,300.7 L96.4,300.8 L99.1,301.5 L101.7,302.5 L104.0,303.7 L106.2,305.0 L108.2,306.5 L109.2,307.3 L110.2,308.1 L111.2,308.9 L112.2,309.7 L113.2,310.6 L114.2,311.6 L115.2,312.5 L116.2,313.5 L117.2,314.5 L118.2,315.5 L119.2,316.6 L120.2,317.7 L121.2,318.8 L122.2,319.9 L123.2,321.0 L124.2,322.2 L125.2,323.3 L126.2,324.5 L127.2,325.7 L128.2,326.9 L129.2,328.2 L130.2,329.4 L131.2,330.7 L132.2,331.9 L133.2,333.2 L134.2,334.5 L135.2,335.8 L136.2,337.1 L137.2,338.4 L138.2,339.7 L139.2,341.0 L140.2,342.3 L141.2,343.6 L142.2,344.9 L143.2,346.2 L144.2,347.6 L145.2,348.9 L146.2,350.2 L147.2,351.5 L148.2,352.7 L149.2,353.9 L150.2,355.1 L151.2,356.3 L152.2,357.5 L153.2,358.6 L154.2,359.7 L155.2,360.7 L156.2,361.6 L157.2,362.5 L158.2,363.4 L159.2,364.2 L160.2,365.0 L161.2,365.8 L162.2,366.5 L163.2,367.1 L164.2,367.6 L165.2,368.1 L166.2,368.7 L167.2,369.1 L168.2,369.6 L169.2,370.0 L170.2,370.4 L171.2,370.8 L172.2,371.1 L173.2,371.4 L174.2,371.6 L175.2,371.8 L176.2,372.0 L177.2,372.2 L178.2,372.4 L179.2,372.5 L180.2,372.7 L181.2,372.8 L182.2,372.9 L183.2,372.9 L184.2,372.9 L185.2,372.9 L186.2,372.9 L187.2,372.8 L188.2,372.8 L189.2,372.7 L190.2,372.6 L191.2,372.5 L192.2,372.4 L193.2,372.3 L194.2,372.1 L195.2,372.0 L196.2,371.8 L197.2,371.6 L198.2,371.4 L199.2,371.1 L200.2,370.9 L201.2,370.6 L202.2,370.3 L203.2,370.0 L204.2,369.7 L205.2,369.3 L206.2,369.0 L207.2,368.6 L208.2,368.2 L209.2,367.8 L210.2,367.4 L211.2,367.1 L212.2,366.7 L213.2,366.3 L214.2,365.9 L215.2,365.5 L216.2,365.2 L217.2,364.9 L218.2,364.6 L219.2,364.2 L220.2,363.9 L221.2,363.5 L222.2,363.1 L223.2,362.8 L224.2,362.4 L225.2,362.1 L226.2,361.8 L227.2,361.6 L228.2,361.4 L229.2,361.2 L230.2,361.1 L231.2,361.0 L232.2,361.0 L233.2,361.0 L234.2,361.0 L235.2,361.0 L236.2,361.0 L237.2,361.1 L238.2,361.1 L239.2,361.1 L240.2,361.2 L241.2,361.2 L242.2,361.2 L243.2,361.3 L244.2,361.3 L245.2,361.4 L246.2,361.5 L247.2,361.6 L248.2,361.7 L249.2,361.8 L250.2,362.0 L251.2,362.1 L252.2,362.3 L253.2,362.5 L254.2,362.7 L255.2,362.8 L256.2,362.9 L257.2,363.1 L258.2,363.1 L259.2,363.2 L260.2,363.2 L261.2,363.2 L262.2,363.2 L263.2,363.2 L264.2,363.1 L265.2,363.1 L266.2,363.0 L267.2,363.0 L268.2,362.9 L269.2,362.9 L270.2,362.8 L271.2,362.8 L272.2,362.7 L273.2,362.6 L274.2,362.6 L275.2,362.6 L276.2,362.5 L277.2,362.5 L278.2,362.5 L279.2,362.4 L280.2,362.4 L281.2,362.4 L282.2,362.4 L283.2,362.4 L284.2,362.4 L285.2,362.4 L286.2,362.4 L287.2,362.4 L288.2,362.5 L289.2,362.5 L290.2,362.5 L291.2,362.5 L292.2,362.5 L293.2,362.5 L294.2,362.5 L295.2,362.5 L296.2,362.5 L297.2,362.5 L297.3,362.5" fill="none" stroke="#D42A2A" stroke-width="1.15" stroke-linejoin="round"/>
<path d="M29.4,442.5 L49.6,355.0 L61.4,324.8 L69.7,310.9 L76.2,303.6 L81.5,299.6 L86.0,297.3 L89.9,296.1 L93.3,295.6 L96.4,295.6 L99.1,295.8 L101.7,296.1 L104.0,296.6 L106.2,297.1 L108.2,297.8 L109.2,298.1 L110.2,298.5 L111.2,298.9 L112.2,299.3 L113.2,299.8 L114.2,300.3 L115.2,300.8 L116.2,301.4 L117.2,302.0 L118.2,302.6 L119.2,303.3 L120.2,304.0 L121.2,304.8 L122.2,305.7 L123.2,306.5 L124.2,307.5 L125.2,308.4 L126.2,309.5 L127.2,310.5 L128.2,311.7 L128.3,312.2 L129.2,313.9 L130.2,316.0 L131.2,318.1 L132.2,320.1 L133.2,322.1 L134.2,323.9 L135.2,325.8 L136.2,327.5 L137.2,329.2 L138.2,330.9 L139.2,332.6 L140.2,334.1 L141.2,335.7 L142.2,337.2 L143.2,338.7 L144.2,340.2 L145.2,341.6 L146.2,343.0 L147.2,344.3 L148.2,345.6 L149.2,346.9 L150.2,348.1 L151.2,349.2 L152.2,350.4 L153.2,351.5 L154.2,352.5 L155.2,353.6 L156.2,354.5 L157.2,355.3 L158.2,356.2 L159.2,356.9 L160.2,357.7 L161.2,358.4 L162.2,359.1 L163.2,359.8 L164.2,360.4 L165.2,360.9 L166.2,361.5 L167.2,361.9 L168.2,362.4 L169.2,362.8 L170.2,363.2 L171.2,363.5 L172.2,363.9 L173.2,364.2 L174.2,364.5 L175.2,364.8 L176.2,365.1 L177.2,365.4 L178.2,365.6 L179.2,365.8 L180.2,366.0 L181.2,366.2 L182.2,366.4 L183.2,366.6 L184.2,366.8 L185.2,367.0 L186.2,367.1 L187.2,367.3 L188.2,367.4 L189.2,367.6 L190.2,367.7 L191.2,367.8 L192.2,368.0 L193.2,368.1 L194.2,368.2 L195.2,368.3 L196.2,368.4 L197.2,368.5 L198.2,368.7 L199.2,368.8 L200.2,368.9 L201.2,368.9 L202.2,369.0 L203.2,369.1 L204.2,369.2 L205.2,369.3 L206.2,369.4 L207.2,369.4 L208.2,369.5 L209.2,369.6 L210.2,369.7 L211.2,369.7 L212.2,369.8 L213.2,369.9 L214.2,369.9 L215.2,370.0 L216.2,370.1 L217.2,370.1 L218.2,370.2 L219.2,370.2 L220.2,370.3 L221.2,370.3 L222.2,370.3 L223.2,370.3 L224.2,370.3 L225.2,370.4 L226.2,370.4 L227.2,370.4 L228.2,370.4 L229.2,370.4 L230.2,370.4 L231.2,370.4 L232.2,370.4 L233.2,370.5 L234.2,370.5 L235.2,370.5 L236.2,370.5 L237.2,370.5 L238.2,370.5 L239.2,370.5 L240.2,370.5 L241.2,370.5 L242.2,370.6 L243.2,370.6 L244.2,370.6 L245.2,370.6 L246.2,370.6 L247.2,370.6 L248.2,370.6 L249.2,370.6 L250.2,370.6 L251.2,370.6 L252.2,370.6 L253.2,370.6 L254.2,370.7 L255.2,370.7 L256.2,370.7 L257.2,370.7 L258.2,370.7 L259.2,370.7 L260.2,370.7 L261.2,370.7 L262.2,370.7 L263.2,370.7 L264.2,370.7 L265.2,370.7 L266.2,370.7 L267.2,370.7 L268.2,370.7 L269.2,370.7 L270.2,370.7 L271.2,370.7 L272.2,370.8 L273.2,370.8 L274.2,370.8 L275.2,370.8 L276.2,370.8 L277.2,370.8 L278.2,370.8 L279.2,370.8 L280.2,370.8 L281.2,370.8 L282.2,370.8 L283.2,370.8 L284.2,370.8 L285.2,370.8 L286.2,370.8 L287.2,370.8 L288.2,370.8 L289.2,370.8 L290.2,370.8 L291.2,370.8 L292.2,370.8 L293.2,370.8 L294.2,370.8 L295.2,370.8 L296.2,370.8 L297.2,370.8 L297.3,370.8" fill="none" stroke="#3C8D3C" stroke-width="1.15" stroke-dasharray="7.6,1.7,1.3,1.7" stroke-linejoin="round"/>
<path d="M29.4,412.8 L49.6,337.6 L61.4,314.4 L69.7,302.1 L76.2,295.9 L81.5,292.6 L86.0,290.9 L89.9,290.1 L93.3,290.1 L96.4,290.1 L99.1,290.6 L101.7,291.2 L104.0,291.9 L106.2,292.6 L108.2,293.4 L109.2,293.9 L110.2,294.3 L111.2,294.8 L112.2,295.3 L113.2,295.9 L114.2,296.5 L115.2,297.1 L116.2,297.8 L117.2,298.4 L118.2,299.2 L119.2,300.0 L120.2,300.8 L121.2,301.7 L122.2,302.6 L123.2,303.5 L124.2,304.5 L125.2,305.6 L126.2,306.7 L127.2,307.9 L128.2,309.1 L128.3,309.3 L129.2,311.2 L130.2,313.7 L131.2,316.1 L132.2,318.4 L133.2,320.6 L134.2,322.6 L135.2,324.5 L136.2,326.3 L137.2,328.0 L138.2,329.6 L139.2,331.0 L140.2,332.5 L141.2,333.9 L142.2,335.3 L143.2,336.8 L144.2,338.3 L145.2,339.8 L146.2,341.2 L147.2,342.7 L148.2,344.1 L149.2,345.4 L150.2,346.7 L151.2,348.0 L152.2,349.3 L153.2,350.6 L154.2,351.8 L155.2,352.9 L156.2,353.9 L157.2,354.8 L158.2,355.6 L159.2,356.3 L160.2,357.0 L161.2,357.6 L162.2,358.2 L163.2,358.7 L164.2,359.3 L165.2,359.7 L166.2,360.2 L167.2,360.6 L168.2,361.1 L169.2,361.4 L170.2,361.8 L171.2,362.2 L172.2,362.5 L173.2,362.8 L174.2,363.1 L175.2,363.4 L176.2,363.7 L177.2,364.0 L178.2,364.3 L179.2,364.5 L180.2,364.8 L181.2,365.0 L182.2,365.3 L183.2,365.5 L184.2,365.8 L185.2,366.0 L186.2,366.2 L187.2,366.4 L188.2,366.6 L189.2,366.8 L190.2,366.9 L191.2,367.1 L192.2,367.3 L193.2,367.4 L194.2,367.6 L195.2,367.7 L196.2,367.9 L197.2,368.0 L198.2,368.2 L199.2,368.3 L200.2,368.4 L201.2,368.6 L202.2,368.7 L203.2,368.8 L204.2,368.9 L205.2,369.0 L206.2,369.1 L207.2,369.2 L208.2,369.3 L209.2,369.4 L210.2,369.5 L211.2,369.6 L212.2,369.7 L213.2,369.8 L214.2,369.9 L215.2,370.0 L216.2,370.1 L217.2,370.2 L218.2,370.3 L219.2,370.3 L220.2,370.4 L221.2,370.5 L222.2,370.6 L223.2,370.6 L224.2,370.7 L225.2,370.7 L226.2,370.8 L227.2,370.9 L228.2,370.9 L229.2,371.0 L230.2,371.0 L231.2,371.1 L232.2,371.2 L233.2,371.2 L234.2,371.3 L235.2,371.3 L236.2,371.4 L237.2,371.4 L238.2,371.5 L239.2,371.5 L240.2,371.6 L241.2,371.6 L242.2,371.6 L243.2,371.7 L244.2,371.7 L245.2,371.7 L246.2,371.8 L247.2,371.8 L248.2,371.8 L249.2,371.8 L250.2,371.8 L251.2,371.8 L252.2,371.8 L253.2,371.8 L254.2,371.8 L255.2,371.8 L256.2,371.8 L257.2,371.9 L258.2,371.9 L259.2,371.9 L260.2,371.9 L261.2,371.9 L262.2,371.9 L263.2,371.9 L264.2,371.9 L265.2,371.9 L266.2,371.9 L267.2,371.9 L268.2,371.9 L269.2,371.9 L270.2,371.9 L271.2,371.9 L272.2,371.9 L273.2,371.9 L274.2,371.9 L275.2,371.9 L276.2,372.0 L277.2,372.0 L278.2,372.0 L279.2,372.0 L280.2,372.0 L281.2,372.0 L282.2,372.0 L283.2,372.0 L284.2,372.0 L285.2,372.0 L286.2,372.0 L287.2,372.0 L288.2,372.0 L289.2,372.0 L290.2,372.0 L291.2,372.0 L292.2,372.0 L293.2,372.0 L294.2,372.0 L295.2,372.0 L296.2,372.0 L297.2,372.0 L297.3,372.0" fill="none" stroke="#BA6CC4" stroke-width="1.15" stroke-dasharray="7.6,1.7,1.3,1.7" stroke-linejoin="round"/>
<path d="M29.4,412.8 L49.6,337.6 L61.4,314.4 L69.7,302.8 L76.2,297.2 L81.5,294.6 L86.0,293.6 L89.9,293.2 L93.3,293.5 L96.4,294.0 L99.1,295.0 L101.7,296.0 L104.0,297.2 L106.2,298.5 L108.2,299.9 L109.2,300.6 L110.2,301.4 L111.2,302.2 L112.2,303.0 L113.2,303.9 L114.2,304.8 L115.2,305.7 L116.2,306.6 L117.2,307.6 L118.2,308.6 L119.2,309.7 L120.2,310.7 L121.2,311.8 L122.2,312.9 L123.2,314.0 L124.2,315.2 L125.2,316.3 L126.2,317.5 L127.2,318.7 L128.2,320.0 L129.2,321.2 L130.2,322.4 L131.2,323.7 L132.2,325.0 L133.2,326.3 L134.2,327.6 L135.2,328.9 L136.2,330.2 L137.2,331.6 L138.2,333.0 L139.2,334.4 L140.2,335.8 L141.2,337.3 L142.2,338.7 L143.2,340.2 L144.2,341.8 L145.2,343.3 L146.2,344.9 L147.2,346.4 L148.2,347.9 L149.2,349.3 L150.2,350.8 L151.2,352.2 L152.2,353.4 L153.2,354.6 L154.2,355.8 L155.2,356.9 L156.2,357.9 L157.2,358.9 L158.2,359.9 L159.2,360.7 L160.2,361.5 L161.2,362.2 L162.2,362.9 L163.2,363.6 L164.2,364.2 L165.2,364.8 L166.2,365.4 L167.2,365.9 L168.2,366.4 L169.2,366.8 L170.2,367.2 L171.2,367.6 L172.2,368.0 L173.2,368.4 L174.2,368.7 L175.2,369.0 L176.2,369.3 L177.2,369.6 L178.2,369.8 L179.2,370.0 L180.2,370.2 L181.2,370.3 L182.2,370.5 L183.2,370.7 L184.2,370.8 L185.2,370.9 L186.2,371.1 L187.2,371.1 L188.2,371.2 L189.2,371.2 L190.2,371.2 L191.2,371.2 L192.2,371.2 L193.2,371.2 L194.2,371.2 L195.2,371.1 L196.2,371.1 L197.2,371.0 L198.2,371.0 L199.2,370.9 L200.2,370.9 L201.2,370.8 L202.2,370.8 L203.2,370.7 L204.2,370.7 L205.2,370.6 L206.2,370.6 L207.2,370.5 L208.2,370.4 L209.2,370.3 L210.2,370.2 L211.2,370.1 L212.2,370.0 L213.2,369.9 L214.2,369.8 L215.2,369.6 L216.2,369.5 L217.2,369.4 L218.2,369.3 L219.2,369.2 L220.2,369.1 L221.2,369.0 L222.2,368.9 L223.2,368.9 L224.2,368.8 L225.2,368.8 L226.2,368.8 L227.2,368.7 L228.2,368.7 L229.2,368.7 L230.2,368.7 L231.2,368.6 L232.2,368.6 L233.2,368.6 L234.2,368.6 L235.2,368.5 L236.2,368.5 L237.2,368.5 L238.2,368.5 L239.2,368.5 L240.2,368.4 L241.2,368.4 L242.2,368.4 L243.2,368.4 L244.2,368.4 L245.2,368.4 L246.2,368.4 L247.2,368.4 L248.2,368.4 L249.2,368.4 L250.2,368.4 L251.2,368.4 L252.2,368.4 L253.2,368.4 L254.2,368.3 L255.2,368.3 L256.2,368.3 L257.2,368.3 L258.2,368.3 L259.2,368.3 L260.2,368.3 L261.2,368.3 L262.2,368.3 L263.2,368.3 L264.2,368.3 L265.2,368.3 L266.2,368.3 L267.2,368.3 L268.2,368.3 L269.2,368.3 L270.2,368.3 L271.2,368.3 L272.2,368.3 L273.2,368.3 L274.2,368.3 L275.2,368.3 L276.2,368.3 L277.2,368.3 L278.2,368.3 L279.2,368.3 L280.2,368.3 L281.2,368.3 L282.2,368.3 L283.2,368.3 L284.2,368.3 L285.2,368.3 L286.2,368.3 L287.2,368.3 L288.2,368.3 L289.2,368.3 L290.2,368.3 L291.2,368.3 L292.2,368.3 L293.2,368.3 L294.2,368.3 L295.2,368.3 L296.2,368.3 L297.2,368.3 L297.3,368.3" fill="none" stroke="#000000" stroke-width="1.4" stroke-dasharray="7.6,1.7,1.3,1.7" stroke-linejoin="round"/>
<path d="M29.4,416.5 L49.6,349.5 L61.4,327.5 L69.7,317.9 L76.2,314.1 L81.5,312.8 L86.0,313.0 L89.9,313.5 L93.3,314.6 L96.4,315.9 L99.1,317.4 L101.7,318.9 L104.0,320.6 L106.2,322.4 L108.2,324.4 L109.2,325.4 L110.2,326.4 L111.2,327.5 L112.2,328.6 L113.2,329.7 L114.2,330.9 L115.2,332.1 L116.2,333.3 L117.2,334.5 L118.2,335.7 L119.2,336.9 L120.2,338.1 L121.2,339.4 L122.2,340.7 L123.2,342.1 L124.2,343.6 L125.2,345.1 L126.2,346.6 L127.2,348.2 L128.2,349.9 L129.2,351.7 L130.2,353.6 L131.2,355.4 L132.2,357.3 L133.2,359.0 L134.2,360.7 L135.2,362.3 L136.2,364.0 L137.2,365.6 L138.2,367.1 L139.2,368.6 L140.2,370.1 L141.2,371.5 L142.2,372.9 L143.2,374.3 L144.2,375.6 L145.2,376.9 L146.2,378.1 L147.2,379.3 L148.2,380.6 L149.2,381.7 L150.2,382.9 L151.2,384.1 L152.2,385.2 L153.2,386.3 L154.2,387.4 L155.2,388.4 L156.2,389.4 L157.2,390.3 L158.2,391.3 L159.2,392.2 L160.2,393.1 L161.2,394.0 L162.2,394.8 L163.2,395.6 L164.2,396.3 L165.2,397.0 L166.2,397.5 L167.2,398.0 L168.2,398.5 L169.2,399.0 L170.2,399.5 L171.2,399.9 L172.2,400.3 L173.2,400.6 L174.2,400.9 L175.2,401.1 L176.2,401.2 L177.2,401.2 L178.2,401.1 L179.2,401.0 L180.2,400.8 L181.2,400.6 L182.2,400.4 L183.2,400.1 L184.2,399.8 L185.2,399.5 L186.2,399.1 L187.2,398.6 L188.2,398.0 L189.2,397.3 L190.2,396.5 L191.2,395.7 L192.2,394.8 L193.2,394.0 L194.2,393.1 L195.2,392.4 L196.2,391.6 L197.2,390.8 L198.2,390.0 L199.2,389.2 L200.2,388.4 L201.2,387.6 L202.2,386.9 L203.2,386.1 L204.2,385.4 L205.2,384.6 L206.2,383.9 L207.2,383.2 L208.2,382.4 L209.2,381.6 L210.2,380.7 L211.2,379.7 L212.2,378.7 L213.2,377.3 L214.2,375.7 L215.2,374.1 L216.2,372.5 L217.2,371.1 L218.2,370.0 L219.2,369.2 L220.2,368.4 L221.2,367.7 L222.2,367.1 L223.2,366.6 L224.2,366.3 L225.2,366.1 L226.2,365.9 L227.2,365.8 L228.2,365.7 L229.2,365.6 L230.2,365.5 L231.2,365.4 L232.2,365.3 L233.2,365.2 L234.2,365.2 L235.2,365.1 L236.2,365.1 L237.2,365.1 L238.2,365.0 L239.2,365.0 L240.2,365.0 L241.2,365.0 L242.2,365.1 L243.2,365.2 L244.2,365.2 L245.2,365.3 L246.2,365.5 L247.2,365.6 L248.2,365.7 L249.2,365.9 L250.2,366.0 L251.2,366.2 L252.2,366.3 L253.2,366.5 L254.2,366.6 L255.2,366.7 L256.2,366.8 L257.2,366.9 L258.2,367.0 L259.2,367.1 L260.2,367.2 L261.2,367.2 L262.2,367.3 L263.2,367.4 L264.2,367.5 L265.2,367.5 L266.2,367.6 L267.2,367.7 L268.2,367.7 L269.2,367.8 L270.2,367.8 L271.2,367.9 L272.2,367.9 L273.2,367.9 L274.2,368.0 L275.2,368.0 L276.2,368.0 L277.2,368.0 L278.2,368.1 L279.2,368.1 L280.2,368.1 L281.2,368.1 L282.2,368.1 L283.2,368.2 L284.2,368.2 L285.2,368.2 L286.2,368.2 L287.2,368.2 L288.2,368.2 L289.2,368.3 L290.2,368.3 L291.2,368.3 L292.2,368.3 L293.2,368.3 L294.2,368.3 L295.2,368.3 L296.2,368.3 L297.2,368.3 L297.3,368.3" fill="none" stroke="#3346B0" stroke-width="1.15" stroke-dasharray="4.3,1.85" stroke-linejoin="round"/>
<path d="M112.1,293.7 V316.3 M109.1,293.7 h6.0 M109.1,316.3 h6.0" stroke="#9DCE6B" stroke-width="0.95" fill="none"/>
<rect x="109.5" y="302.59999999999997" width="5.2" height="5.2" fill="#8CC652"/>
<path d="M127,307.1 V325.4 M124.0,307.1 h6.0 M124.0,325.4 h6.0" stroke="#9DCE6B" stroke-width="0.95" fill="none"/>
<rect x="124.4" y="313.79999999999995" width="5.2" height="5.2" fill="#8CC652"/>
<path d="M136.7,313.5 V342.1 M133.7,313.5 h6.0 M133.7,342.1 h6.0" stroke="#9DCE6B" stroke-width="0.95" fill="none"/>
<rect x="134.1" y="325.09999999999997" width="5.2" height="5.2" fill="#8CC652"/>
<path d="M141.5,326 V342.5 M138.5,326 h6.0 M138.5,342.5 h6.0" stroke="#9DCE6B" stroke-width="0.95" fill="none"/>
<rect x="138.9" y="331.79999999999995" width="5.2" height="5.2" fill="#8CC652"/>
<path d="M152.7,336.7 V380.5 M149.7,336.7 h6.0 M149.7,380.5 h6.0" stroke="#DC4A4A" stroke-width="0.95" fill="none"/>
<path d="M149.0,358.6 H155.9 M149.0,356.40000000000003 v4.4 M155.9,356.40000000000003 v4.4" stroke="#DC4A4A" stroke-width="0.95" fill="none"/>
<path d="M152.7,355.6 L154.7,358.6 L152.7,361.6 L150.7,358.6 Z" fill="#D62B2B"/>
<path d="M167.5,355.4 V380.5 M164.5,355.4 h6.0 M164.5,380.5 h6.0" stroke="#DC4A4A" stroke-width="0.95" fill="none"/>
<path d="M164.3,368.3 H170.5 M164.3,366.1 v4.4 M170.5,366.1 v4.4" stroke="#DC4A4A" stroke-width="0.95" fill="none"/>
<path d="M167.5,365.3 L169.5,368.3 L167.5,371.3 L165.5,368.3 Z" fill="#D62B2B"/>
<path d="M184.2,361.2 V383.1 M181.2,361.2 h6.0 M181.2,383.1 h6.0" stroke="#DC4A4A" stroke-width="0.95" fill="none"/>
<path d="M182.5,372.1 H186 M182.5,369.90000000000003 v4.4 M186,369.90000000000003 v4.4" stroke="#DC4A4A" stroke-width="0.95" fill="none"/>
<path d="M184.2,369.1 L186.2,372.1 L184.2,375.1 L182.2,372.1 Z" fill="#D62B2B"/>
<path d="M215,372.5 V380 M212.0,372.5 h6.0 M212.0,380 h6.0" stroke="#262626" stroke-width="0.95" fill="none"/>
<path d="M212.12,375.8 L217.16,373.40000000000003 L217.16,378.2 Z" fill="#000000"/>
</g>
<line x1="199.1" y1="292.2" x2="216.4" y2="292.2" stroke="#F0A030" stroke-width="1.15"/>
<text x="222.20" y="295.10" font-size="8.59" text-anchor="start" textLength="39.56" lengthAdjust="spacingAndGlyphs" fill="#000" stroke="#000" stroke-width="0.1" >Tripathi99</text>
<line x1="199.1" y1="304.4" x2="216.4" y2="304.4" stroke="#D42A2A" stroke-width="1.15"/>
<text x="222.20" y="307.30" font-size="8.59" text-anchor="start" textLength="39.56" lengthAdjust="spacingAndGlyphs" fill="#000" stroke="#000" stroke-width="0.1" >Tripathi96</text>
<line x1="199.1" y1="316.59999999999997" x2="216.4" y2="316.59999999999997" stroke="#3C8D3C" stroke-width="1.15" stroke-dasharray="7.6,1.7,1.3,1.7"/>
<text x="222.20" y="319.50" font-size="8.59" text-anchor="start" textLength="14.14" lengthAdjust="spacingAndGlyphs" fill="#000" stroke="#000" stroke-width="0.1" >Kox</text>
<line x1="199.1" y1="328.79999999999995" x2="216.4" y2="328.79999999999995" stroke="#BA6CC4" stroke-width="1.15" stroke-dasharray="7.6,1.7,1.3,1.7"/>
<text x="222.20" y="331.70" font-size="8.59" text-anchor="start" textLength="20.02" lengthAdjust="spacingAndGlyphs" fill="#000" stroke="#000" stroke-width="0.1" >Shen</text>
<line x1="199.1" y1="341.0" x2="216.4" y2="341.0" stroke="#000000" stroke-width="1.4" stroke-dasharray="7.6,1.7,1.3,1.7"/>
<text x="222.20" y="343.90" font-size="8.59" text-anchor="start" textLength="37.03" lengthAdjust="spacingAndGlyphs" fill="#000" stroke="#000" stroke-width="0.1" >Kox-Shen</text>
<line x1="199.1" y1="353.2" x2="216.4" y2="353.2" stroke="#3346B0" stroke-width="1.15" stroke-dasharray="4.3,1.85"/>
<text x="222.20" y="356.10" font-size="8.59" text-anchor="start" textLength="67.54" lengthAdjust="spacingAndGlyphs" fill="#000" stroke="#000" stroke-width="0.1" >Hybrid-Kurotama</text>
<path d="M199.20000000000002,420.8 H207.4 M203.3,416.7 V424.90000000000003" stroke="#DE5555" stroke-width="0.8" fill="none"/>
<path d="M200.10000000000002,416.7 H206.5 M200.10000000000002,424.90000000000003 H206.5 M199.20000000000002,417.59999999999997 V424.00000000000006 M207.4,417.59999999999997 V424.00000000000006" stroke="#DE5555" stroke-width="1" fill="none"/>
<path d="M203.3,417.8 L205.3,420.8 L203.3,423.8 L201.3,420.8 Z" fill="#D62B2B"/>
<text x="218.00" y="423.70" font-size="8.59" text-anchor="start" textLength="41.60" lengthAdjust="spacingAndGlyphs" fill="#000" stroke="#000" stroke-width="0.1" >Horst2019</text>
<path d="M199.20000000000002,432.5 H207.4 M203.3,428.4 V436.6" stroke="#333333" stroke-width="0.8" fill="none"/>
<path d="M200.10000000000002,428.4 H206.5 M200.10000000000002,436.6 H206.5 M199.20000000000002,429.29999999999995 V435.70000000000005 M207.4,429.29999999999995 V435.70000000000005" stroke="#333333" stroke-width="1" fill="none"/>
<path d="M200.42000000000002,432.5 L205.46,430.1 L205.46,434.9 Z" fill="#000000"/>
<text x="218.00" y="435.40" font-size="8.59" text-anchor="start" textLength="64.53" lengthAdjust="spacingAndGlyphs" fill="#000" stroke="#000" stroke-width="0.1" >Webber1990(IK)</text>
<path d="M199.20000000000002,444.2 H207.4 M203.3,440.09999999999997 V448.3" stroke="#A3D174" stroke-width="0.8" fill="none"/>
<path d="M200.10000000000002,440.09999999999997 H206.5 M200.10000000000002,448.3 H206.5 M199.20000000000002,440.99999999999994 V447.40000000000003 M207.4,440.99999999999994 V447.40000000000003" stroke="#A3D174" stroke-width="1" fill="none"/>
<rect x="200.70000000000002" y="441.59999999999997" width="5.2" height="5.2" fill="#8CC652"/>
<text x="218.00" y="447.10" font-size="8.59" text-anchor="start" textLength="71.63" lengthAdjust="spacingAndGlyphs" fill="#000" stroke="#000" stroke-width="0.1" >Ingemarsson2000</text>
<line x1="372.3" y1="455.75" x2="375.2" y2="455.75" stroke="#333" stroke-width="0.9"/>
<text x="369.60" y="458.75" font-size="8.37" text-anchor="end" textLength="12.33" lengthAdjust="spacingAndGlyphs" fill="#000" stroke="#000" stroke-width="0.1" >0.0</text>
<line x1="372.3" y1="431.55" x2="375.2" y2="431.55" stroke="#333" stroke-width="0.9"/>
<text x="369.60" y="434.55" font-size="8.37" text-anchor="end" textLength="12.33" lengthAdjust="spacingAndGlyphs" fill="#000" stroke="#000" stroke-width="0.1" >0.2</text>
<line x1="372.3" y1="407.36" x2="375.2" y2="407.36" stroke="#333" stroke-width="0.9"/>
<text x="369.60" y="410.36" font-size="8.37" text-anchor="end" textLength="12.33" lengthAdjust="spacingAndGlyphs" fill="#000" stroke="#000" stroke-width="0.1" >0.4</text>
<line x1="372.3" y1="383.16" x2="375.2" y2="383.16" stroke="#333" stroke-width="0.9"/>
<text x="369.60" y="386.16" font-size="8.37" text-anchor="end" textLength="12.33" lengthAdjust="spacingAndGlyphs" fill="#000" stroke="#000" stroke-width="0.1" >0.6</text>
<line x1="372.3" y1="358.97" x2="375.2" y2="358.97" stroke="#333" stroke-width="0.9"/>
<text x="369.60" y="361.97" font-size="8.37" text-anchor="end" textLength="12.33" lengthAdjust="spacingAndGlyphs" fill="#000" stroke="#000" stroke-width="0.1" >0.8</text>
<line x1="372.3" y1="334.77" x2="375.2" y2="334.77" stroke="#333" stroke-width="0.9"/>
<text x="369.60" y="337.77" font-size="8.37" text-anchor="end" textLength="12.33" lengthAdjust="spacingAndGlyphs" fill="#000" stroke="#000" stroke-width="0.1" >1.0</text>
<line x1="372.3" y1="310.57" x2="375.2" y2="310.57" stroke="#333" stroke-width="0.9"/>
<text x="369.60" y="313.57" font-size="8.37" text-anchor="end" textLength="12.33" lengthAdjust="spacingAndGlyphs" fill="#000" stroke="#000" stroke-width="0.1" >1.2</text>
<line x1="372.3" y1="286.38" x2="375.2" y2="286.38" stroke="#333" stroke-width="0.9"/>
<text x="369.60" y="289.38" font-size="8.37" text-anchor="end" textLength="12.33" lengthAdjust="spacingAndGlyphs" fill="#000" stroke="#000" stroke-width="0.1" >1.4</text>
<line x1="375.20" y1="455.75" x2="375.20" y2="458.65" stroke="#333" stroke-width="0.9"/>
<text x="368.58" y="467.45" font-size="8.32" text-anchor="start" textLength="9.80" lengthAdjust="spacingAndGlyphs" fill="#000" stroke="#000" stroke-width="0.1" >10</text>
<text x="378.38" y="464.25" font-size="5.83" text-anchor="start" textLength="3.44" lengthAdjust="spacingAndGlyphs" fill="#000" stroke="#000" stroke-width="0.05" >0</text>
<line x1="395.35" y1="455.75" x2="395.35" y2="457.55" stroke="#444" stroke-width="0.7"/>
<line x1="407.13" y1="455.75" x2="407.13" y2="457.55" stroke="#444" stroke-width="0.7"/>
<line x1="415.49" y1="455.75" x2="415.49" y2="457.55" stroke="#444" stroke-width="0.7"/>
<line x1="421.98" y1="455.75" x2="421.98" y2="457.55" stroke="#444" stroke-width="0.7"/>
<line x1="427.28" y1="455.75" x2="427.28" y2="457.55" stroke="#444" stroke-width="0.7"/>
<line x1="431.76" y1="455.75" x2="431.76" y2="457.55" stroke="#444" stroke-width="0.7"/>
<line x1="435.64" y1="455.75" x2="435.64" y2="457.55" stroke="#444" stroke-width="0.7"/>
<line x1="439.06" y1="455.75" x2="439.06" y2="457.55" stroke="#444" stroke-width="0.7"/>
<line x1="442.12" y1="455.75" x2="442.12" y2="458.65" stroke="#333" stroke-width="0.9"/>
<text x="435.51" y="467.45" font-size="8.32" text-anchor="start" textLength="9.80" lengthAdjust="spacingAndGlyphs" fill="#000" stroke="#000" stroke-width="0.1" >10</text>
<text x="445.31" y="464.25" font-size="5.83" text-anchor="start" textLength="3.44" lengthAdjust="spacingAndGlyphs" fill="#000" stroke="#000" stroke-width="0.05" >1</text>
<line x1="462.27" y1="455.75" x2="462.27" y2="457.55" stroke="#444" stroke-width="0.7"/>
<line x1="474.06" y1="455.75" x2="474.06" y2="457.55" stroke="#444" stroke-width="0.7"/>
<line x1="482.42" y1="455.75" x2="482.42" y2="457.55" stroke="#444" stroke-width="0.7"/>
<line x1="488.90" y1="455.75" x2="488.90" y2="457.55" stroke="#444" stroke-width="0.7"/>
<line x1="494.20" y1="455.75" x2="494.20" y2="457.55" stroke="#444" stroke-width="0.7"/>
<line x1="498.68" y1="455.75" x2="498.68" y2="457.55" stroke="#444" stroke-width="0.7"/>
<line x1="502.56" y1="455.75" x2="502.56" y2="457.55" stroke="#444" stroke-width="0.7"/>
<line x1="505.99" y1="455.75" x2="505.99" y2="457.55" stroke="#444" stroke-width="0.7"/>
<line x1="509.05" y1="455.75" x2="509.05" y2="458.65" stroke="#333" stroke-width="0.9"/>
<text x="502.43" y="467.45" font-size="8.32" text-anchor="start" textLength="9.80" lengthAdjust="spacingAndGlyphs" fill="#000" stroke="#000" stroke-width="0.1" >10</text>
<text x="512.23" y="464.25" font-size="5.83" text-anchor="start" textLength="3.44" lengthAdjust="spacingAndGlyphs" fill="#000" stroke="#000" stroke-width="0.05" >2</text>
<line x1="529.20" y1="455.75" x2="529.20" y2="457.55" stroke="#444" stroke-width="0.7"/>
<line x1="540.98" y1="455.75" x2="540.98" y2="457.55" stroke="#444" stroke-width="0.7"/>
<line x1="549.34" y1="455.75" x2="549.34" y2="457.55" stroke="#444" stroke-width="0.7"/>
<line x1="555.83" y1="455.75" x2="555.83" y2="457.55" stroke="#444" stroke-width="0.7"/>
<line x1="561.13" y1="455.75" x2="561.13" y2="457.55" stroke="#444" stroke-width="0.7"/>
<line x1="565.61" y1="455.75" x2="565.61" y2="457.55" stroke="#444" stroke-width="0.7"/>
<line x1="569.49" y1="455.75" x2="569.49" y2="457.55" stroke="#444" stroke-width="0.7"/>
<line x1="572.91" y1="455.75" x2="572.91" y2="457.55" stroke="#444" stroke-width="0.7"/>
<line x1="575.97" y1="455.75" x2="575.97" y2="458.65" stroke="#333" stroke-width="0.9"/>
<text x="569.36" y="467.45" font-size="8.32" text-anchor="start" textLength="9.80" lengthAdjust="spacingAndGlyphs" fill="#000" stroke="#000" stroke-width="0.1" >10</text>
<text x="579.16" y="464.25" font-size="5.83" text-anchor="start" textLength="3.44" lengthAdjust="spacingAndGlyphs" fill="#000" stroke="#000" stroke-width="0.05" >3</text>
<line x1="596.12" y1="455.75" x2="596.12" y2="457.55" stroke="#444" stroke-width="0.7"/>
<line x1="607.91" y1="455.75" x2="607.91" y2="457.55" stroke="#444" stroke-width="0.7"/>
<line x1="616.27" y1="455.75" x2="616.27" y2="457.55" stroke="#444" stroke-width="0.7"/>
<line x1="622.75" y1="455.75" x2="622.75" y2="457.55" stroke="#444" stroke-width="0.7"/>
<line x1="628.05" y1="455.75" x2="628.05" y2="457.55" stroke="#444" stroke-width="0.7"/>
<line x1="632.53" y1="455.75" x2="632.53" y2="457.55" stroke="#444" stroke-width="0.7"/>
<line x1="636.41" y1="455.75" x2="636.41" y2="457.55" stroke="#444" stroke-width="0.7"/>
<line x1="639.84" y1="455.75" x2="639.84" y2="457.55" stroke="#444" stroke-width="0.7"/>
<line x1="642.90" y1="455.75" x2="642.90" y2="458.65" stroke="#333" stroke-width="0.9"/>
<text x="636.28" y="467.45" font-size="8.32" text-anchor="start" textLength="9.80" lengthAdjust="spacingAndGlyphs" fill="#000" stroke="#000" stroke-width="0.1" >10</text>
<text x="646.08" y="464.25" font-size="5.83" text-anchor="start" textLength="3.44" lengthAdjust="spacingAndGlyphs" fill="#000" stroke="#000" stroke-width="0.05" >4</text>
<rect x="375.2" y="281.9" width="267.7" height="173.85000000000002" fill="none" stroke="#6A6A6A" stroke-width="1.2"/>
<text x="509.05" y="276.90" font-size="9.64" text-anchor="middle" textLength="60.79" lengthAdjust="spacingAndGlyphs" fill="#000" stroke="#000" stroke-width="0.1" >He-4 + Al-27</text>
<text x="509.05" y="479.55" font-size="8.64" text-anchor="middle" textLength="130.30" lengthAdjust="spacingAndGlyphs" fill="#000" stroke="#000" stroke-width="0.1" >Projectile Kinetic Energy / MeV/u</text>
<g transform="translate(352.70,368.82) rotate(-90)">
<text x="0.00" y="0.00" font-size="8.64" text-anchor="middle" textLength="67.20" lengthAdjust="spacingAndGlyphs" fill="#000" stroke="#000" stroke-width="0.1" >Cross-section / b</text>
</g>
<text x="504.5" y="503.5" font-family="'Liberation Serif', serif" font-size="16.0" text-anchor="middle" textLength="16.2" lengthAdjust="spacingAndGlyphs">(c)</text>
<clipPath id="cc"><rect x="375.2" y="281.9" width="267.7" height="173.85000000000002"/></clipPath><g clip-path="url(#cc)">
<path d="M375.2,455.8 L395.3,370.2 L407.1,337.5 L415.5,321.2 L422.0,314.5 L427.3,310.8 L431.8,309.6 L435.6,309.7 L439.1,310.4 L442.1,311.2 L444.9,312.5 L447.4,313.9 L449.8,315.5 L451.9,317.2 L453.9,319.0 L454.9,320.0 L455.9,321.0 L456.9,322.0 L457.9,323.2 L458.9,324.4 L459.9,325.7 L460.9,326.9 L461.9,328.3 L462.9,329.6 L463.9,330.9 L464.9,332.2 L465.9,333.6 L466.9,334.9 L467.9,336.3 L468.9,337.8 L469.9,339.1 L470.9,340.5 L471.9,341.8 L472.9,343.1 L473.9,344.4 L474.9,345.7 L475.9,346.9 L476.9,348.2 L477.9,349.4 L478.9,350.5 L479.9,351.7 L480.9,352.8 L481.9,353.9 L482.9,355.0 L483.9,356.0 L484.9,357.0 L485.9,358.0 L486.9,359.0 L487.9,359.9 L488.9,360.8 L489.9,361.7 L490.9,362.6 L491.9,363.5 L492.9,364.3 L493.9,365.1 L494.9,365.9 L495.9,366.6 L496.9,367.3 L497.9,368.0 L498.9,368.7 L499.9,369.4 L500.9,370.0 L501.9,370.6 L502.9,371.2 L503.9,371.8 L504.9,372.3 L505.9,372.7 L506.9,373.2 L507.9,373.7 L508.9,374.1 L509.9,374.5 L510.9,374.9 L511.9,375.3 L512.9,375.6 L513.9,375.9 L514.9,376.2 L515.9,376.4 L516.9,376.6 L517.9,376.7 L518.9,376.9 L519.9,377.0 L520.9,377.2 L521.9,377.3 L522.9,377.4 L523.9,377.5 L524.9,377.5 L525.9,377.5 L526.9,377.5 L527.9,377.5 L528.9,377.4 L529.9,377.3 L530.9,377.1 L531.9,377.0 L532.9,376.8 L533.9,376.6 L534.9,376.4 L535.9,376.2 L536.9,375.9 L537.9,375.6 L538.9,375.3 L539.9,374.9 L540.9,374.5 L541.9,374.1 L542.9,373.7 L543.9,373.2 L544.9,372.8 L545.9,372.3 L546.9,371.8 L547.9,371.2 L548.9,370.6 L549.9,370.0 L550.9,369.4 L551.9,368.8 L552.9,368.1 L553.9,367.5 L554.9,366.8 L555.9,366.0 L556.9,365.3 L557.9,364.5 L558.9,363.8 L559.9,363.0 L560.9,362.2 L561.9,361.4 L562.9,360.6 L563.9,359.8 L564.9,358.9 L565.9,358.1 L566.9,357.2 L567.9,356.4 L568.9,355.6 L569.9,354.9 L570.9,354.2 L571.9,353.4 L572.9,352.7 L573.9,352.0 L574.9,351.4 L575.9,351.0 L576.9,350.7 L577.9,350.5 L578.9,350.2 L579.9,350.0 L580.9,349.9 L581.9,349.7 L582.9,349.6 L583.9,349.5 L584.9,349.4 L585.9,349.4 L586.9,349.4 L587.9,349.5 L588.9,349.6 L589.9,349.8 L590.9,349.9 L591.9,350.1 L592.9,350.3 L593.9,350.5 L594.9,350.6 L595.9,350.7 L596.9,350.9 L597.9,351.0 L598.9,351.2 L599.9,351.3 L600.9,351.4 L601.9,351.5 L602.9,351.6 L603.9,351.6 L604.9,351.6 L605.9,351.6 L606.9,351.6 L607.9,351.6 L608.9,351.6 L609.9,351.6 L610.9,351.6 L611.9,351.6 L612.9,351.6 L613.9,351.6 L614.9,351.6 L615.9,351.6 L616.9,351.6 L617.9,351.6 L618.9,351.6 L619.9,351.6 L620.9,351.6 L621.9,351.6 L622.9,351.6 L623.9,351.6 L624.9,351.6 L625.9,351.6 L626.9,351.6 L627.9,351.6 L628.9,351.6 L629.9,351.6 L630.9,351.6 L631.9,351.6 L632.9,351.6 L633.9,351.6 L634.9,351.6 L635.9,351.6 L636.9,351.6 L637.9,351.6 L638.9,351.6 L639.9,351.6 L640.9,351.6 L641.9,351.6 L642.9,351.6" fill="none" stroke="#F0A030" stroke-width="1.15" stroke-linejoin="round"/>
<path d="M375.2,455.8 L395.3,397.5 L407.1,355.0 L415.5,334.7 L422.0,322.6 L427.3,313.5 L431.8,308.0 L435.6,304.8 L439.1,302.8 L442.1,302.0 L444.9,301.6 L447.4,301.5 L449.8,301.5 L451.9,302.0 L453.9,302.6 L454.9,302.9 L455.9,303.3 L456.9,303.7 L457.9,304.1 L458.9,304.6 L459.9,305.2 L460.9,305.8 L461.9,306.5 L462.9,307.1 L463.9,307.8 L464.9,308.5 L465.9,309.3 L466.9,310.1 L467.9,310.9 L468.9,311.8 L469.9,312.7 L470.9,313.7 L471.9,314.7 L472.9,315.7 L473.9,316.8 L474.9,317.9 L475.9,319.1 L476.9,320.3 L477.9,321.6 L478.9,322.8 L479.9,324.2 L480.9,325.6 L481.9,327.1 L482.9,328.7 L483.9,330.2 L484.9,331.7 L485.9,333.2 L486.9,334.5 L487.9,335.8 L488.9,337.1 L489.9,338.3 L490.9,339.5 L491.9,340.6 L492.9,341.7 L493.9,342.7 L494.9,343.7 L495.9,344.6 L496.9,345.5 L497.9,346.3 L498.9,347.1 L499.9,347.9 L500.9,348.7 L501.9,349.4 L502.9,350.1 L503.9,350.7 L504.9,351.4 L505.9,352.0 L506.9,352.5 L507.9,353.1 L508.9,353.5 L509.9,354.0 L510.9,354.5 L511.9,354.9 L512.9,355.3 L513.9,355.7 L514.9,356.1 L515.9,356.4 L516.9,356.7 L517.9,357.0 L518.9,357.2 L519.9,357.4 L520.9,357.6 L521.9,357.7 L522.9,357.9 L523.9,358.0 L524.9,358.1 L525.9,358.2 L526.9,358.3 L527.9,358.4 L528.9,358.4 L529.9,358.4 L530.9,358.4 L531.9,358.3 L532.9,358.3 L533.9,358.2 L534.9,358.0 L535.9,357.9 L536.9,357.8 L537.9,357.6 L538.9,357.5 L539.9,357.3 L540.9,357.2 L541.9,357.0 L542.9,356.8 L543.9,356.5 L544.9,356.2 L545.9,355.9 L546.9,355.6 L547.9,355.3 L548.9,355.0 L549.9,354.6 L550.9,354.3 L551.9,353.9 L552.9,353.6 L553.9,353.3 L554.9,352.9 L555.9,352.6 L556.9,352.2 L557.9,351.9 L558.9,351.5 L559.9,351.1 L560.9,350.8 L561.9,350.4 L562.9,350.1 L563.9,349.7 L564.9,349.4 L565.9,349.1 L566.9,348.7 L567.9,348.4 L568.9,348.1 L569.9,347.8 L570.9,347.5 L571.9,347.3 L572.9,347.1 L573.9,346.8 L574.9,346.6 L575.9,346.4 L576.9,346.2 L577.9,346.0 L578.9,345.9 L579.9,345.8 L580.9,345.7 L581.9,345.7 L582.9,345.7 L583.9,345.8 L584.9,345.8 L585.9,345.8 L586.9,345.9 L587.9,346.0 L588.9,346.0 L589.9,346.1 L590.9,346.2 L591.9,346.3 L592.9,346.5 L593.9,346.7 L594.9,346.9 L595.9,347.2 L596.9,347.5 L597.9,347.8 L598.9,348.1 L599.9,348.3 L600.9,348.5 L601.9,348.6 L602.9,348.7 L603.9,348.7 L604.9,348.7 L605.9,348.7 L606.9,348.7 L607.9,348.7 L608.9,348.7 L609.9,348.7 L610.9,348.7 L611.9,348.7 L612.9,348.7 L613.9,348.7 L614.9,348.7 L615.9,348.7 L616.9,348.7 L617.9,348.7 L618.9,348.7 L619.9,348.7 L620.9,348.7 L621.9,348.7 L622.9,348.7 L623.9,348.7 L624.9,348.7 L625.9,348.7 L626.9,348.7 L627.9,348.7 L628.9,348.7 L629.9,348.7 L630.9,348.7 L631.9,348.7 L632.9,348.6 L633.9,348.6 L634.9,348.6 L635.9,348.6 L636.9,348.6 L637.9,348.6 L638.9,348.6 L639.9,348.5 L640.9,348.5 L641.9,348.5 L642.9,348.5" fill="none" stroke="#D42A2A" stroke-width="1.15" stroke-linejoin="round"/>
<path d="M375.2,455.8 L395.3,370.4 L407.1,337.5 L415.5,319.6 L422.0,309.3 L427.3,301.9 L431.8,297.5 L435.6,294.7 L439.1,292.7 L442.1,291.6 L444.9,290.9 L447.4,290.5 L449.8,290.4 L451.9,290.6 L453.9,290.9 L454.9,291.1 L455.9,291.3 L456.9,291.6 L457.9,291.8 L458.9,292.1 L459.9,292.5 L460.9,292.9 L461.9,293.4 L462.9,293.9 L463.9,294.4 L464.9,294.9 L465.9,295.5 L466.9,296.0 L467.9,296.7 L468.9,297.3 L469.9,298.0 L470.9,298.7 L471.9,299.4 L472.9,300.2 L473.9,300.9 L474.1,301.2 L474.9,302.5 L475.9,304.7 L476.9,307.0 L477.9,309.5 L478.9,312.1 L479.9,314.4 L480.9,316.6 L481.9,318.8 L482.9,320.7 L483.9,322.6 L484.9,324.4 L485.9,326.0 L486.9,327.6 L487.9,329.1 L488.9,330.5 L489.9,331.9 L490.9,333.2 L491.9,334.3 L492.9,335.4 L493.9,336.5 L494.9,337.5 L495.9,338.5 L496.9,339.4 L497.9,340.2 L498.9,341.0 L499.9,341.8 L500.9,342.5 L501.9,343.1 L502.9,343.7 L503.9,344.3 L504.9,344.9 L505.9,345.4 L506.9,345.9 L507.9,346.4 L508.9,346.8 L509.9,347.3 L510.9,347.7 L511.9,348.1 L512.9,348.5 L513.9,348.8 L514.9,349.2 L515.9,349.5 L516.9,349.9 L517.9,350.2 L518.9,350.5 L519.9,350.8 L520.9,351.1 L521.9,351.3 L522.9,351.6 L523.9,351.8 L524.9,352.1 L525.9,352.3 L526.9,352.5 L527.9,352.7 L528.9,353.0 L529.9,353.2 L530.9,353.3 L531.9,353.5 L532.9,353.7 L533.9,353.9 L534.9,354.0 L535.9,354.2 L536.9,354.3 L537.9,354.5 L538.9,354.6 L539.9,354.8 L540.9,354.9 L541.9,355.0 L542.9,355.1 L543.9,355.2 L544.9,355.4 L545.9,355.5 L546.9,355.6 L547.9,355.7 L548.9,355.8 L549.9,355.9 L550.9,356.0 L551.9,356.1 L552.9,356.2 L553.9,356.3 L554.9,356.4 L555.9,356.5 L556.9,356.6 L557.9,356.7 L558.9,356.8 L559.9,356.9 L560.9,357.0 L561.9,357.0 L562.9,357.1 L563.9,357.2 L564.9,357.4 L565.9,357.5 L566.9,357.6 L567.9,357.7 L568.9,357.8 L569.9,357.9 L570.9,357.9 L571.9,357.9 L572.9,357.9 L573.9,357.9 L574.9,357.9 L575.9,357.9 L576.9,357.9 L577.9,357.9 L578.9,357.9 L579.9,357.9 L580.9,357.9 L581.9,357.9 L582.9,357.9 L583.9,357.9 L584.9,357.9 L585.9,357.9 L586.9,357.9 L587.9,357.9 L588.9,357.9 L589.9,357.9 L590.9,357.9 L591.9,357.9 L592.9,357.9 L593.9,357.9 L594.9,357.9 L595.9,357.9 L596.9,357.9 L597.9,357.9 L598.9,357.9 L599.9,357.9 L600.9,357.9 L601.9,357.9 L602.9,357.9 L603.9,357.9 L604.9,357.9 L605.9,357.9 L606.9,357.9 L607.9,357.9 L608.9,357.9 L609.9,357.9 L610.9,357.9 L611.9,357.9 L612.9,357.9 L613.9,357.9 L614.9,357.9 L615.9,357.9 L616.9,357.9 L617.9,357.9 L618.9,357.9 L619.9,357.9 L620.9,357.9 L621.9,357.9 L622.9,357.9 L623.9,357.9 L624.9,357.9 L625.9,357.9 L626.9,357.9 L627.9,357.9 L628.9,357.9 L629.9,357.9 L630.9,357.9 L631.9,357.9 L632.9,357.9 L633.9,357.9 L634.9,357.9 L635.9,357.9 L636.9,357.9 L637.9,357.9 L638.9,357.9 L639.9,357.9 L640.9,357.9 L641.9,357.9 L642.9,357.9" fill="none" stroke="#3C8D3C" stroke-width="1.15" stroke-dasharray="7.6,1.7,1.3,1.7" stroke-linejoin="round"/>
<path d="M375.2,455.8 L395.3,370.2 L407.1,337.2 L415.5,319.4 L422.0,309.1 L427.3,301.6 L431.8,297.1 L435.6,294.2 L439.1,292.3 L442.1,291.3 L444.9,290.7 L447.4,290.3 L449.8,290.2 L451.9,290.4 L453.9,290.7 L454.9,290.9 L455.9,291.1 L456.9,291.4 L457.9,291.6 L458.9,291.9 L459.9,292.3 L460.9,292.7 L461.9,293.1 L462.9,293.6 L463.9,294.1 L464.9,294.7 L465.9,295.2 L466.9,295.8 L467.9,296.4 L468.9,297.0 L469.9,297.7 L470.9,298.4 L471.9,299.1 L472.9,299.9 L473.9,300.7 L474.1,300.8 L474.9,302.0 L475.9,303.9 L476.9,306.2 L477.9,309.1 L478.9,312.0 L479.9,314.7 L480.9,317.2 L481.9,319.7 L482.9,321.8 L483.9,323.9 L484.9,325.8 L485.9,327.5 L486.9,329.1 L487.9,330.6 L488.9,332.0 L489.9,333.3 L490.9,334.6 L491.9,335.8 L492.9,336.9 L493.9,338.0 L494.9,338.9 L495.9,339.7 L496.9,340.5 L497.9,341.2 L498.9,341.9 L499.9,342.6 L500.9,343.2 L501.9,343.8 L502.9,344.3 L503.9,344.9 L504.9,345.4 L505.9,345.9 L506.9,346.4 L507.9,346.8 L508.9,347.3 L509.9,347.7 L510.9,348.1 L511.9,348.5 L512.9,348.9 L513.9,349.3 L514.9,349.7 L515.9,350.1 L516.9,350.4 L517.9,350.8 L518.9,351.1 L519.9,351.5 L520.9,351.8 L521.9,352.1 L522.9,352.4 L523.9,352.8 L524.9,353.1 L525.9,353.3 L526.9,353.6 L527.9,353.9 L528.9,354.2 L529.9,354.4 L530.9,354.7 L531.9,354.9 L532.9,355.2 L533.9,355.4 L534.9,355.6 L535.9,355.8 L536.9,356.0 L537.9,356.2 L538.9,356.4 L539.9,356.6 L540.9,356.8 L541.9,357.0 L542.9,357.1 L543.9,357.3 L544.9,357.5 L545.9,357.6 L546.9,357.8 L547.9,357.9 L548.9,358.1 L549.9,358.2 L550.9,358.3 L551.9,358.5 L552.9,358.6 L553.9,358.7 L554.9,358.8 L555.9,358.9 L556.9,359.0 L557.9,359.1 L558.9,359.2 L559.9,359.2 L560.9,359.3 L561.9,359.4 L562.9,359.5 L563.9,359.5 L564.9,359.6 L565.9,359.6 L566.9,359.7 L567.9,359.7 L568.9,359.8 L569.9,359.8 L570.9,359.9 L571.9,359.9 L572.9,360.0 L573.9,360.0 L574.9,360.0 L575.9,360.0 L576.9,360.1 L577.9,360.1 L578.9,360.1 L579.9,360.1 L580.9,360.1 L581.9,360.1 L582.9,360.1 L583.9,360.2 L584.9,360.2 L585.9,360.2 L586.9,360.2 L587.9,360.2 L588.9,360.2 L589.9,360.2 L590.9,360.3 L591.9,360.3 L592.9,360.3 L593.9,360.3 L594.9,360.3 L595.9,360.3 L596.9,360.3 L597.9,360.3 L598.9,360.4 L599.9,360.4 L600.9,360.4 L601.9,360.4 L602.9,360.4 L603.9,360.4 L604.9,360.4 L605.9,360.4 L606.9,360.4 L607.9,360.4 L608.9,360.5 L609.9,360.5 L610.9,360.5 L611.9,360.5 L612.9,360.5 L613.9,360.5 L614.9,360.5 L615.9,360.5 L616.9,360.5 L617.9,360.5 L618.9,360.5 L619.9,360.5 L620.9,360.5 L621.9,360.5 L622.9,360.6 L623.9,360.6 L624.9,360.6 L625.9,360.6 L626.9,360.6 L627.9,360.6 L628.9,360.6 L629.9,360.6 L630.9,360.6 L631.9,360.6 L632.9,360.6 L633.9,360.6 L634.9,360.6 L635.9,360.6 L636.9,360.6 L637.9,360.6 L638.9,360.6 L639.9,360.6 L640.9,360.6 L641.9,360.6 L642.9,360.6" fill="none" stroke="#BA6CC4" stroke-width="1.15" stroke-dasharray="7.6,1.7,1.3,1.7" stroke-linejoin="round"/>
<path d="M375.2,455.8 L395.3,370.2 L407.1,337.2 L415.5,319.4 L422.0,309.1 L427.3,302.3 L431.8,298.4 L435.6,296.2 L439.1,294.8 L442.1,294.2 L444.9,294.2 L447.4,294.4 L449.8,294.8 L451.9,295.2 L453.9,295.8 L454.9,296.3 L455.9,296.8 L456.9,297.3 L457.9,297.8 L458.9,298.4 L459.9,299.0 L460.9,299.6 L461.9,300.2 L462.9,300.9 L463.9,301.7 L464.9,302.4 L465.9,303.2 L466.9,304.1 L467.9,304.9 L468.9,305.8 L469.9,306.8 L470.9,307.8 L471.9,308.9 L472.9,310.0 L473.9,311.1 L474.9,312.3 L475.9,313.5 L476.9,314.8 L477.9,316.1 L478.9,317.5 L479.9,318.9 L480.9,320.4 L481.9,322.0 L482.9,323.5 L483.9,325.2 L484.9,326.9 L485.9,328.6 L486.9,330.3 L487.9,332.0 L488.9,333.7 L489.9,335.4 L490.9,337.0 L491.9,338.6 L492.9,340.0 L493.9,341.3 L494.9,342.5 L495.9,343.7 L496.9,344.8 L497.9,345.9 L498.9,346.9 L499.9,347.8 L500.9,348.6 L501.9,349.3 L502.9,350.0 L503.9,350.7 L504.9,351.3 L505.9,351.9 L506.9,352.4 L507.9,353.0 L508.9,353.4 L509.9,353.9 L510.9,354.4 L511.9,354.8 L512.9,355.2 L513.9,355.6 L514.9,356.0 L515.9,356.4 L516.9,356.7 L517.9,357.1 L518.9,357.4 L519.9,357.6 L520.9,357.9 L521.9,358.2 L522.9,358.4 L523.9,358.7 L524.9,358.9 L525.9,359.1 L526.9,359.3 L527.9,359.4 L528.9,359.6 L529.9,359.7 L530.9,359.8 L531.9,359.9 L532.9,360.0 L533.9,360.0 L534.9,360.1 L535.9,360.2 L536.9,360.2 L537.9,360.2 L538.9,360.2 L539.9,360.2 L540.9,360.1 L541.9,360.1 L542.9,360.0 L543.9,360.0 L544.9,359.9 L545.9,359.8 L546.9,359.7 L547.9,359.6 L548.9,359.4 L549.9,359.3 L550.9,359.1 L551.9,359.0 L552.9,358.8 L553.9,358.7 L554.9,358.6 L555.9,358.4 L556.9,358.3 L557.9,358.1 L558.9,358.0 L559.9,357.8 L560.9,357.7 L561.9,357.7 L562.9,357.7 L563.9,357.7 L564.9,357.7 L565.9,357.6 L566.9,357.6 L567.9,357.6 L568.9,357.6 L569.9,357.6 L570.9,357.6 L571.9,357.6 L572.9,357.6 L573.9,357.6 L574.9,357.6 L575.9,357.6 L576.9,357.6 L577.9,357.6 L578.9,357.6 L579.9,357.6 L580.9,357.6 L581.9,357.6 L582.9,357.6 L583.9,357.6 L584.9,357.6 L585.9,357.6 L586.9,357.6 L587.9,357.6 L588.9,357.6 L589.9,357.6 L590.9,357.6 L591.9,357.6 L592.9,357.7 L593.9,357.7 L594.9,357.7 L595.9,357.7 L596.9,357.7 L597.9,357.7 L598.9,357.7 L599.9,357.7 L600.9,357.7 L601.9,357.7 L602.9,357.7 L603.9,357.7 L604.9,357.7 L605.9,357.7 L606.9,357.7 L607.9,357.7 L608.9,357.7 L609.9,357.7 L610.9,357.7 L611.9,357.7 L612.9,357.7 L613.9,357.7 L614.9,357.7 L615.9,357.7 L616.9,357.7 L617.9,357.7 L618.9,357.7 L619.9,357.7 L620.9,357.7 L621.9,357.7 L622.9,357.8 L623.9,357.8 L624.9,357.8 L625.9,357.8 L626.9,357.8 L627.9,357.8 L628.9,357.8 L629.9,357.8 L630.9,357.8 L631.9,357.8 L632.9,357.8 L633.9,357.8 L634.9,357.8 L635.9,357.8 L636.9,357.8 L637.9,357.9 L638.9,357.9 L639.9,357.9 L640.9,357.9 L641.9,357.9 L642.9,357.9" fill="none" stroke="#000000" stroke-width="1.4" stroke-dasharray="7.6,1.7,1.3,1.7" stroke-linejoin="round"/>
<path d="M375.2,455.8 L395.3,373.2 L407.1,343.2 L415.5,328.1 L422.0,321.8 L427.3,318.2 L431.8,316.4 L435.6,316.3 L439.1,316.7 L442.1,317.4 L444.9,318.8 L447.4,320.5 L449.8,322.2 L451.9,324.1 L453.9,326.0 L454.9,327.0 L455.9,328.0 L456.9,329.0 L457.9,330.1 L458.9,331.2 L459.9,332.3 L460.9,333.4 L461.9,334.6 L462.9,335.7 L463.9,336.9 L464.9,338.1 L465.9,339.3 L466.9,340.5 L467.9,341.7 L468.9,342.9 L469.9,344.1 L470.9,345.3 L471.9,346.5 L472.9,347.7 L473.9,348.8 L474.9,350.0 L475.9,351.2 L476.9,352.3 L477.9,353.4 L478.9,354.6 L479.9,355.7 L480.9,356.8 L481.9,357.8 L482.9,358.9 L483.9,360.0 L484.9,361.0 L485.9,362.0 L486.9,363.0 L487.9,363.9 L488.9,364.9 L489.9,365.8 L490.9,366.7 L491.9,367.6 L492.9,368.5 L493.9,369.4 L494.9,370.1 L495.9,370.9 L496.9,371.7 L497.9,372.4 L498.9,373.1 L499.9,373.8 L500.9,374.5 L501.9,375.1 L502.9,375.7 L503.9,376.3 L504.9,376.8 L505.9,377.3 L506.9,377.7 L507.9,378.1 L508.9,378.6 L509.9,379.0 L510.9,379.4 L511.9,379.7 L512.9,380.0 L513.9,380.2 L514.9,380.4 L515.9,380.6 L516.9,380.7 L517.9,380.7 L518.9,380.8 L519.9,380.9 L520.9,381.0 L521.9,381.0 L522.9,381.1 L523.9,381.1 L524.9,381.1 L525.9,381.1 L526.9,381.1 L527.9,381.1 L528.9,380.9 L529.9,380.8 L530.9,380.6 L531.9,380.4 L532.9,380.2 L533.9,380.0 L534.9,379.8 L535.9,379.6 L536.9,379.4 L537.9,379.1 L538.9,378.9 L539.9,378.6 L540.9,378.3 L541.9,377.9 L542.9,377.6 L543.9,377.2 L544.9,376.9 L545.9,376.5 L546.9,376.1 L547.9,375.7 L548.9,375.2 L549.9,374.8 L550.9,374.3 L551.9,373.7 L552.9,373.1 L553.9,372.5 L554.9,371.8 L555.9,370.9 L556.9,370.0 L557.9,369.0 L558.9,368.0 L559.9,366.9 L560.9,365.8 L561.9,364.6 L562.9,363.2 L563.9,361.8 L564.9,360.6 L565.9,359.7 L566.9,358.8 L567.9,358.1 L568.9,357.4 L569.9,357.1 L570.9,357.1 L571.9,357.1 L572.9,357.1 L573.9,357.1 L574.9,357.2 L575.9,357.2 L576.9,357.2 L577.9,357.2 L578.9,357.3 L579.9,357.3 L580.9,357.3 L581.9,357.3 L582.9,357.4 L583.9,357.4 L584.9,357.4 L585.9,357.5 L586.9,357.5 L587.9,357.5 L588.9,357.6 L589.9,357.6 L590.9,357.7 L591.9,357.7 L592.9,357.7 L593.9,357.8 L594.9,357.8 L595.9,357.8 L596.9,357.9 L597.9,357.9 L598.9,357.9 L599.9,357.9 L600.9,358.0 L601.9,358.0 L602.9,358.0 L603.9,358.0 L604.9,358.1 L605.9,358.1 L606.9,358.1 L607.9,358.1 L608.9,358.2 L609.9,358.2 L610.9,358.2 L611.9,358.2 L612.9,358.3 L613.9,358.3 L614.9,358.3 L615.9,358.3 L616.9,358.4 L617.9,358.4 L618.9,358.4 L619.9,358.4 L620.9,358.4 L621.9,358.5 L622.9,358.5 L623.9,358.5 L624.9,358.5 L625.9,358.5 L626.9,358.6 L627.9,358.6 L628.9,358.6 L629.9,358.6 L630.9,358.6 L631.9,358.7 L632.9,358.7 L633.9,358.7 L634.9,358.7 L635.9,358.7 L636.9,358.7 L637.9,358.7 L638.9,358.8 L639.9,358.8 L640.9,358.8 L641.9,358.8 L642.9,358.8" fill="none" stroke="#3346B0" stroke-width="1.15" stroke-dasharray="4.3,1.85" stroke-linejoin="round"/>
<path d="M441.2,315.5 V320.5 M438.9,315.5 h4.6 M438.9,320.5 h4.6" stroke="#F3C0D2" stroke-width="0.95" fill="none"/>
<path d="M439.0,315.8 L443.4,320.2 M443.4,315.8 L439.0,320.2 M441.2,315.36 L441.2,320.64" stroke="#F2B6CB" stroke-width="1.1"/>
<path d="M556.3,365.2 V372.6 M553.8,365.2 h5.0 M553.8,372.6 h5.0" stroke="#E14F4F" stroke-width="0.95" fill="none"/>
<circle cx="556.3" cy="368.9" r="1.6" fill="#DC3030"/>
<path d="M561.4,353.6 V362.9 M558.4,353.6 h6.0 M558.4,362.9 h6.0" stroke="#262626" stroke-width="0.95" fill="none"/>
<path d="M558.52,358.7 L563.56,356.3 L563.56,361.09999999999997 Z" fill="#000000"/>
<circle cx="567.9" cy="361.5" r="1.5" fill="#B25FC2"/>
</g>
<line x1="464.8" y1="397.3" x2="482.0" y2="397.3" stroke="#F0A030" stroke-width="1.15"/>
<text x="488.20" y="400.20" font-size="8.59" text-anchor="start" textLength="39.56" lengthAdjust="spacingAndGlyphs" fill="#000" stroke="#000" stroke-width="0.1" >Tripathi99</text>
<line x1="464.8" y1="409.05" x2="482.0" y2="409.05" stroke="#D42A2A" stroke-width="1.15"/>
<text x="488.20" y="411.95" font-size="8.59" text-anchor="start" textLength="39.56" lengthAdjust="spacingAndGlyphs" fill="#000" stroke="#000" stroke-width="0.1" >Tripathi96</text>
<line x1="464.8" y1="420.8" x2="482.0" y2="420.8" stroke="#3C8D3C" stroke-width="1.15" stroke-dasharray="7.6,1.7,1.3,1.7"/>
<text x="488.20" y="423.70" font-size="8.59" text-anchor="start" textLength="14.14" lengthAdjust="spacingAndGlyphs" fill="#000" stroke="#000" stroke-width="0.1" >Kox</text>
<line x1="464.8" y1="432.55" x2="482.0" y2="432.55" stroke="#BA6CC4" stroke-width="1.15" stroke-dasharray="7.6,1.7,1.3,1.7"/>
<text x="488.20" y="435.45" font-size="8.59" text-anchor="start" textLength="20.02" lengthAdjust="spacingAndGlyphs" fill="#000" stroke="#000" stroke-width="0.1" >Shen</text>
<line x1="464.8" y1="444.3" x2="482.0" y2="444.3" stroke="#000000" stroke-width="1.4" stroke-dasharray="7.6,1.7,1.3,1.7"/>
<text x="488.20" y="447.20" font-size="8.59" text-anchor="start" textLength="37.03" lengthAdjust="spacingAndGlyphs" fill="#000" stroke="#000" stroke-width="0.1" >Kox-Shen</text>
<line x1="545.0" y1="397.3" x2="560.5" y2="397.3" stroke="#3346B0" stroke-width="1.15" stroke-dasharray="4.3,1.85"/>
<text x="567.60" y="400.20" font-size="8.59" text-anchor="start" textLength="67.54" lengthAdjust="spacingAndGlyphs" fill="#000" stroke="#000" stroke-width="0.1" >Hybrid-Kurotama</text>
<path d="M548.6999999999999,409.05 H556.9 M552.8,404.95 V413.15000000000003" stroke="#C17FCE" stroke-width="0.8" fill="none"/>
<path d="M549.5999999999999,404.95 H556.0 M549.5999999999999,413.15000000000003 H556.0 M548.6999999999999,405.84999999999997 V412.25000000000006 M556.9,405.84999999999997 V412.25000000000006" stroke="#C17FCE" stroke-width="1" fill="none"/>
<circle cx="552.8" cy="409.05" r="1.5" fill="#B25FC2"/>
<text x="567.60" y="411.95" font-size="8.59" text-anchor="start" textLength="58.66" lengthAdjust="spacingAndGlyphs" fill="#000" stroke="#000" stroke-width="0.1" >Tanihata1985a</text>
<path d="M548.6999999999999,420.8 H556.9 M552.8,416.7 V424.90000000000003" stroke="#333333" stroke-width="0.8" fill="none"/>
<path d="M549.5999999999999,416.7 H556.0 M549.5999999999999,424.90000000000003 H556.0 M548.6999999999999,417.59999999999997 V424.00000000000006 M556.9,417.59999999999997 V424.00000000000006" stroke="#333333" stroke-width="1" fill="none"/>
<path d="M549.92,420.8 L554.9599999999999,418.40000000000003 L554.9599999999999,423.2 Z" fill="#000000"/>
<text x="567.60" y="423.70" font-size="8.59" text-anchor="start" textLength="64.53" lengthAdjust="spacingAndGlyphs" fill="#000" stroke="#000" stroke-width="0.1" >Webber1990(IK)</text>
<path d="M548.6999999999999,432.55 H556.9 M552.8,428.45 V436.65000000000003" stroke="#F4C4D5" stroke-width="0.8" fill="none"/>
<path d="M549.5999999999999,428.45 H556.0 M549.5999999999999,436.65000000000003 H556.0 M548.6999999999999,429.34999999999997 V435.75000000000006 M556.9,429.34999999999997 V435.75000000000006" stroke="#F4C4D5" stroke-width="1" fill="none"/>
<path d="M550.5999999999999,430.35 L555.0,434.75 M555.0,430.35 L550.5999999999999,434.75 M552.8,429.91 L552.8,435.19" stroke="#F2B6CB" stroke-width="1.1"/>
<text x="567.60" y="435.45" font-size="8.59" text-anchor="start" textLength="32.49" lengthAdjust="spacingAndGlyphs" fill="#000" stroke="#000" stroke-width="0.1" >Igo1963</text>
<path d="M548.6999999999999,444.3 H556.9 M552.8,440.2 V448.40000000000003" stroke="#E35959" stroke-width="0.8" fill="none"/>
<path d="M549.5999999999999,440.2 H556.0 M549.5999999999999,448.40000000000003 H556.0 M548.6999999999999,441.09999999999997 V447.50000000000006 M556.9,441.09999999999997 V447.50000000000006" stroke="#E35959" stroke-width="1" fill="none"/>
<circle cx="552.8" cy="444.3" r="1.6" fill="#DC3030"/>
<text x="567.60" y="447.20" font-size="8.59" text-anchor="start" textLength="60.78" lengthAdjust="spacingAndGlyphs" fill="#000" stroke="#000" stroke-width="0.1" >Aksinenko1980</text>
<line x1="167.6" y1="725.90" x2="170.5" y2="725.90" stroke="#333" stroke-width="0.9"/>
<text x="164.90" y="728.90" font-size="8.37" text-anchor="end" textLength="12.33" lengthAdjust="spacingAndGlyphs" fill="#000" stroke="#000" stroke-width="0.1" >0.0</text>
<line x1="167.6" y1="703.40" x2="170.5" y2="703.40" stroke="#333" stroke-width="0.9"/>
<text x="164.90" y="706.40" font-size="8.37" text-anchor="end" textLength="12.33" lengthAdjust="spacingAndGlyphs" fill="#000" stroke="#000" stroke-width="0.1" >0.2</text>
<line x1="167.6" y1="680.91" x2="170.5" y2="680.91" stroke="#333" stroke-width="0.9"/>
<text x="164.90" y="683.91" font-size="8.37" text-anchor="end" textLength="12.33" lengthAdjust="spacingAndGlyphs" fill="#000" stroke="#000" stroke-width="0.1" >0.4</text>
<line x1="167.6" y1="658.41" x2="170.5" y2="658.41" stroke="#333" stroke-width="0.9"/>
<text x="164.90" y="661.41" font-size="8.37" text-anchor="end" textLength="12.33" lengthAdjust="spacingAndGlyphs" fill="#000" stroke="#000" stroke-width="0.1" >0.6</text>
<line x1="167.6" y1="635.92" x2="170.5" y2="635.92" stroke="#333" stroke-width="0.9"/>
<text x="164.90" y="638.92" font-size="8.37" text-anchor="end" textLength="12.33" lengthAdjust="spacingAndGlyphs" fill="#000" stroke="#000" stroke-width="0.1" >0.8</text>
<line x1="167.6" y1="613.42" x2="170.5" y2="613.42" stroke="#333" stroke-width="0.9"/>
<text x="164.90" y="616.42" font-size="8.37" text-anchor="end" textLength="12.33" lengthAdjust="spacingAndGlyphs" fill="#000" stroke="#000" stroke-width="0.1" >1.0</text>
<line x1="167.6" y1="590.93" x2="170.5" y2="590.93" stroke="#333" stroke-width="0.9"/>
<text x="164.90" y="593.93" font-size="8.37" text-anchor="end" textLength="12.33" lengthAdjust="spacingAndGlyphs" fill="#000" stroke="#000" stroke-width="0.1" >1.2</text>
<line x1="167.6" y1="568.43" x2="170.5" y2="568.43" stroke="#333" stroke-width="0.9"/>
<text x="164.90" y="571.43" font-size="8.37" text-anchor="end" textLength="12.33" lengthAdjust="spacingAndGlyphs" fill="#000" stroke="#000" stroke-width="0.1" >1.4</text>
<line x1="170.50" y1="725.9" x2="170.50" y2="728.8" stroke="#333" stroke-width="0.9"/>
<text x="163.88" y="737.60" font-size="8.32" text-anchor="start" textLength="9.80" lengthAdjust="spacingAndGlyphs" fill="#000" stroke="#000" stroke-width="0.1" >10</text>
<text x="173.68" y="734.40" font-size="5.83" text-anchor="start" textLength="3.44" lengthAdjust="spacingAndGlyphs" fill="#000" stroke="#000" stroke-width="0.05" >0</text>
<line x1="190.67" y1="725.9" x2="190.67" y2="727.6999999999999" stroke="#444" stroke-width="0.7"/>
<line x1="202.47" y1="725.9" x2="202.47" y2="727.6999999999999" stroke="#444" stroke-width="0.7"/>
<line x1="210.84" y1="725.9" x2="210.84" y2="727.6999999999999" stroke="#444" stroke-width="0.7"/>
<line x1="217.33" y1="725.9" x2="217.33" y2="727.6999999999999" stroke="#444" stroke-width="0.7"/>
<line x1="222.64" y1="725.9" x2="222.64" y2="727.6999999999999" stroke="#444" stroke-width="0.7"/>
<line x1="227.12" y1="725.9" x2="227.12" y2="727.6999999999999" stroke="#444" stroke-width="0.7"/>
<line x1="231.01" y1="725.9" x2="231.01" y2="727.6999999999999" stroke="#444" stroke-width="0.7"/>
<line x1="234.43" y1="725.9" x2="234.43" y2="727.6999999999999" stroke="#444" stroke-width="0.7"/>
<line x1="237.50" y1="725.9" x2="237.50" y2="728.8" stroke="#333" stroke-width="0.9"/>
<text x="230.88" y="737.60" font-size="8.32" text-anchor="start" textLength="9.80" lengthAdjust="spacingAndGlyphs" fill="#000" stroke="#000" stroke-width="0.1" >10</text>
<text x="240.68" y="734.40" font-size="5.83" text-anchor="start" textLength="3.44" lengthAdjust="spacingAndGlyphs" fill="#000" stroke="#000" stroke-width="0.05" >1</text>
<line x1="257.67" y1="725.9" x2="257.67" y2="727.6999999999999" stroke="#444" stroke-width="0.7"/>
<line x1="269.47" y1="725.9" x2="269.47" y2="727.6999999999999" stroke="#444" stroke-width="0.7"/>
<line x1="277.84" y1="725.9" x2="277.84" y2="727.6999999999999" stroke="#444" stroke-width="0.7"/>
<line x1="284.33" y1="725.9" x2="284.33" y2="727.6999999999999" stroke="#444" stroke-width="0.7"/>
<line x1="289.64" y1="725.9" x2="289.64" y2="727.6999999999999" stroke="#444" stroke-width="0.7"/>
<line x1="294.12" y1="725.9" x2="294.12" y2="727.6999999999999" stroke="#444" stroke-width="0.7"/>
<line x1="298.01" y1="725.9" x2="298.01" y2="727.6999999999999" stroke="#444" stroke-width="0.7"/>
<line x1="301.43" y1="725.9" x2="301.43" y2="727.6999999999999" stroke="#444" stroke-width="0.7"/>
<line x1="304.50" y1="725.9" x2="304.50" y2="728.8" stroke="#333" stroke-width="0.9"/>
<text x="297.88" y="737.60" font-size="8.32" text-anchor="start" textLength="9.80" lengthAdjust="spacingAndGlyphs" fill="#000" stroke="#000" stroke-width="0.1" >10</text>
<text x="307.68" y="734.40" font-size="5.83" text-anchor="start" textLength="3.44" lengthAdjust="spacingAndGlyphs" fill="#000" stroke="#000" stroke-width="0.05" >2</text>
<line x1="324.67" y1="725.9" x2="324.67" y2="727.6999999999999" stroke="#444" stroke-width="0.7"/>
<line x1="336.47" y1="725.9" x2="336.47" y2="727.6999999999999" stroke="#444" stroke-width="0.7"/>
<line x1="344.84" y1="725.9" x2="344.84" y2="727.6999999999999" stroke="#444" stroke-width="0.7"/>
<line x1="351.33" y1="725.9" x2="351.33" y2="727.6999999999999" stroke="#444" stroke-width="0.7"/>
<line x1="356.64" y1="725.9" x2="356.64" y2="727.6999999999999" stroke="#444" stroke-width="0.7"/>
<line x1="361.12" y1="725.9" x2="361.12" y2="727.6999999999999" stroke="#444" stroke-width="0.7"/>
<line x1="365.01" y1="725.9" x2="365.01" y2="727.6999999999999" stroke="#444" stroke-width="0.7"/>
<line x1="368.43" y1="725.9" x2="368.43" y2="727.6999999999999" stroke="#444" stroke-width="0.7"/>
<line x1="371.50" y1="725.9" x2="371.50" y2="728.8" stroke="#333" stroke-width="0.9"/>
<text x="364.88" y="737.60" font-size="8.32" text-anchor="start" textLength="9.80" lengthAdjust="spacingAndGlyphs" fill="#000" stroke="#000" stroke-width="0.1" >10</text>
<text x="374.68" y="734.40" font-size="5.83" text-anchor="start" textLength="3.44" lengthAdjust="spacingAndGlyphs" fill="#000" stroke="#000" stroke-width="0.05" >3</text>
<line x1="391.67" y1="725.9" x2="391.67" y2="727.6999999999999" stroke="#444" stroke-width="0.7"/>
<line x1="403.47" y1="725.9" x2="403.47" y2="727.6999999999999" stroke="#444" stroke-width="0.7"/>
<line x1="411.84" y1="725.9" x2="411.84" y2="727.6999999999999" stroke="#444" stroke-width="0.7"/>
<line x1="418.33" y1="725.9" x2="418.33" y2="727.6999999999999" stroke="#444" stroke-width="0.7"/>
<line x1="423.64" y1="725.9" x2="423.64" y2="727.6999999999999" stroke="#444" stroke-width="0.7"/>
<line x1="428.12" y1="725.9" x2="428.12" y2="727.6999999999999" stroke="#444" stroke-width="0.7"/>
<line x1="432.01" y1="725.9" x2="432.01" y2="727.6999999999999" stroke="#444" stroke-width="0.7"/>
<line x1="435.43" y1="725.9" x2="435.43" y2="727.6999999999999" stroke="#444" stroke-width="0.7"/>
<line x1="438.50" y1="725.9" x2="438.50" y2="728.8" stroke="#333" stroke-width="0.9"/>
<text x="431.88" y="737.60" font-size="8.32" text-anchor="start" textLength="9.80" lengthAdjust="spacingAndGlyphs" fill="#000" stroke="#000" stroke-width="0.1" >10</text>
<text x="441.68" y="734.40" font-size="5.83" text-anchor="start" textLength="3.44" lengthAdjust="spacingAndGlyphs" fill="#000" stroke="#000" stroke-width="0.05" >4</text>
<rect x="170.5" y="551.9" width="268.0" height="174.0" fill="none" stroke="#6A6A6A" stroke-width="1.2"/>
<text x="304.50" y="546.90" font-size="9.64" text-anchor="middle" textLength="60.33" lengthAdjust="spacingAndGlyphs" fill="#000" stroke="#000" stroke-width="0.1" >He-4 + Si-28</text>
<text x="304.50" y="749.70" font-size="8.64" text-anchor="middle" textLength="130.30" lengthAdjust="spacingAndGlyphs" fill="#000" stroke="#000" stroke-width="0.1" >Projectile Kinetic Energy / MeV/u</text>
<g transform="translate(148.00,638.90) rotate(-90)">
<text x="0.00" y="0.00" font-size="8.64" text-anchor="middle" textLength="67.20" lengthAdjust="spacingAndGlyphs" fill="#000" stroke="#000" stroke-width="0.1" >Cross-section / b</text>
</g>
<text x="300.2" y="773.5" font-family="'Liberation Serif', serif" font-size="16.0" text-anchor="middle" textLength="16.2" lengthAdjust="spacingAndGlyphs">(d)</text>
<clipPath id="cdd"><rect x="170.5" y="551.9" width="268.0" height="174.0"/></clipPath><g clip-path="url(#cdd)">
<path d="M170.5,725.9 L190.7,655.6 L202.5,618.7 L210.8,598.7 L217.3,589.7 L222.6,585.0 L227.1,582.6 L231.0,581.6 L234.4,581.6 L237.5,581.6 L240.3,582.2 L242.8,583.2 L245.1,584.2 L247.3,585.4 L249.3,586.6 L250.3,587.2 L251.3,587.9 L252.3,588.6 L253.3,589.3 L254.3,590.1 L255.3,590.9 L256.3,591.8 L257.3,592.6 L258.3,593.5 L259.3,594.4 L260.3,595.4 L261.3,596.4 L262.3,597.4 L263.3,598.4 L264.3,599.5 L265.3,600.6 L266.3,601.7 L267.3,602.9 L268.3,604.1 L269.3,605.3 L270.3,606.6 L271.3,607.9 L272.3,609.2 L273.3,610.6 L274.3,612.0 L275.3,613.4 L276.3,614.8 L277.3,616.3 L278.3,617.9 L279.3,619.4 L280.3,621.0 L281.3,622.6 L282.3,624.3 L283.3,626.0 L284.3,627.6 L285.3,629.3 L286.3,630.9 L287.3,632.5 L288.3,634.1 L289.3,635.6 L290.3,637.0 L291.3,638.4 L292.3,639.6 L293.3,640.8 L294.3,641.9 L295.3,643.0 L296.3,644.0 L297.3,645.0 L298.3,645.9 L299.3,646.7 L300.3,647.4 L301.3,648.2 L302.3,648.9 L303.3,649.5 L304.3,650.1 L305.3,650.7 L306.3,651.3 L307.3,651.8 L308.3,652.3 L309.3,652.8 L310.3,653.3 L311.3,653.8 L312.3,654.3 L313.3,654.8 L314.3,655.1 L315.3,655.4 L316.3,655.6 L317.3,655.6 L318.3,655.6 L319.3,655.5 L320.3,655.4 L321.3,655.3 L322.3,655.1 L323.3,654.9 L324.3,654.7 L325.3,654.5 L326.3,654.2 L327.3,653.8 L328.3,653.2 L329.3,652.4 L330.3,651.4 L331.3,650.4 L332.3,649.4 L333.3,648.4 L334.3,647.4 L335.3,646.4 L336.3,645.3 L337.3,644.2 L338.3,643.1 L339.3,642.0 L340.3,641.0 L341.3,640.1 L342.3,639.1 L343.3,638.2 L344.3,637.3 L345.3,636.5 L346.3,635.7 L347.3,634.9 L348.3,634.2 L349.3,633.5 L350.3,632.9 L351.3,632.2 L352.3,631.6 L353.3,631.1 L354.3,630.6 L355.3,630.1 L356.3,629.6 L357.3,629.2 L358.3,628.7 L359.3,628.3 L360.3,628.0 L361.3,627.6 L362.3,627.3 L363.3,627.1 L364.3,626.8 L365.3,626.6 L366.3,626.3 L367.3,626.1 L368.3,625.9 L369.3,625.8 L370.3,625.6 L371.3,625.5 L372.3,625.5 L373.3,625.4 L374.3,625.4 L375.3,625.4 L376.3,625.3 L377.3,625.3 L378.3,625.3 L379.3,625.3 L380.3,625.3 L381.3,625.3 L382.3,625.3 L383.3,625.3 L384.3,625.4 L385.3,625.5 L386.3,625.6 L387.3,625.7 L388.3,625.8 L389.3,625.9 L390.3,626.0 L391.3,626.1 L392.3,626.3 L393.3,626.5 L394.3,626.7 L395.3,626.8 L396.3,627.0 L397.3,627.2 L398.3,627.3 L399.3,627.5 L400.3,627.6 L401.3,627.6 L402.3,627.6 L403.3,627.6 L404.3,627.6 L405.3,627.6 L406.3,627.6 L407.3,627.6 L408.3,627.6 L409.3,627.6 L410.3,627.6 L411.3,627.6 L412.3,627.6 L413.3,627.6 L414.3,627.6 L415.3,627.6 L416.3,627.6 L417.3,627.6 L418.3,627.6 L419.3,627.6 L420.3,627.6 L421.3,627.6 L422.3,627.6 L423.3,627.6 L424.3,627.5 L425.3,627.5 L426.3,627.5 L427.3,627.5 L428.3,627.5 L429.3,627.5 L430.3,627.5 L431.3,627.5 L432.3,627.5 L433.3,627.5 L434.3,627.5 L435.3,627.4 L436.3,627.4 L437.3,627.4 L438.3,627.4 L438.5,627.4" fill="none" stroke="#F0A030" stroke-width="1.15" stroke-linejoin="round"/>
<path d="M170.5,725.9 L190.7,681.1 L202.5,634.0 L210.8,614.9 L217.3,601.4 L222.6,593.5 L227.1,588.8 L231.0,585.8 L234.4,584.1 L237.5,583.0 L240.3,582.5 L242.8,582.3 L245.1,582.4 L247.3,582.6 L249.3,582.9 L250.3,583.1 L251.3,583.3 L252.3,583.6 L253.3,583.9 L254.3,584.2 L255.3,584.7 L256.3,585.1 L257.3,585.6 L258.3,586.1 L259.3,586.7 L260.3,587.2 L261.3,587.8 L262.3,588.5 L263.3,589.2 L264.3,589.9 L265.3,590.7 L266.3,591.5 L267.3,592.3 L268.3,593.2 L269.3,594.0 L270.3,595.0 L271.3,596.0 L272.3,597.0 L273.3,598.1 L274.3,599.1 L275.3,600.3 L276.3,601.4 L277.3,602.5 L278.3,603.8 L279.3,605.0 L280.3,606.3 L281.3,607.5 L282.3,608.8 L283.3,610.1 L284.3,611.4 L285.3,612.6 L286.3,613.9 L287.3,615.1 L288.3,616.3 L289.3,617.5 L290.3,618.6 L291.3,619.6 L292.3,620.6 L293.3,621.6 L294.3,622.5 L295.3,623.4 L296.3,624.2 L297.3,625.0 L298.3,625.8 L299.3,626.4 L300.3,627.1 L301.3,627.7 L302.3,628.3 L303.3,628.9 L304.3,629.4 L305.3,629.9 L306.3,630.3 L307.3,630.7 L308.3,631.1 L309.3,631.5 L310.3,631.8 L311.3,632.2 L312.3,632.5 L313.3,632.8 L314.3,633.0 L315.3,633.2 L316.3,633.4 L317.3,633.5 L318.3,633.6 L319.3,633.7 L320.3,633.7 L321.3,633.8 L322.3,633.9 L323.3,633.9 L324.3,634.0 L325.3,634.0 L326.3,634.0 L327.3,634.0 L328.3,633.9 L329.3,633.8 L330.3,633.7 L331.3,633.6 L332.3,633.4 L333.3,633.2 L334.3,633.1 L335.3,632.9 L336.3,632.7 L337.3,632.5 L338.3,632.3 L339.3,632.0 L340.3,631.8 L341.3,631.5 L342.3,631.2 L343.3,630.9 L344.3,630.6 L345.3,630.3 L346.3,630.0 L347.3,629.6 L348.3,629.3 L349.3,628.9 L350.3,628.5 L351.3,628.2 L352.3,627.8 L353.3,627.4 L354.3,627.1 L355.3,626.7 L356.3,626.4 L357.3,626.0 L358.3,625.6 L359.3,625.3 L360.3,624.9 L361.3,624.6 L362.3,624.3 L363.3,624.0 L364.3,623.7 L365.3,623.5 L366.3,623.2 L367.3,622.9 L368.3,622.6 L369.3,622.4 L370.3,622.2 L371.3,622.1 L372.3,622.0 L373.3,622.0 L374.3,621.9 L375.3,621.9 L376.3,621.8 L377.3,621.8 L378.3,621.8 L379.3,621.8 L380.3,621.8 L381.3,621.9 L382.3,622.1 L383.3,622.3 L384.3,622.5 L385.3,622.7 L386.3,622.9 L387.3,623.1 L388.3,623.3 L389.3,623.5 L390.3,623.7 L391.3,623.9 L392.3,624.1 L393.3,624.3 L394.3,624.4 L395.3,624.4 L396.3,624.4 L397.3,624.4 L398.3,624.4 L399.3,624.4 L400.3,624.4 L401.3,624.4 L402.3,624.4 L403.3,624.4 L404.3,624.4 L405.3,624.4 L406.3,624.4 L407.3,624.4 L408.3,624.4 L409.3,624.4 L410.3,624.4 L411.3,624.4 L412.3,624.4 L413.3,624.4 L414.3,624.4 L415.3,624.4 L416.3,624.4 L417.3,624.4 L418.3,624.4 L419.3,624.4 L420.3,624.4 L421.3,624.4 L422.3,624.4 L423.3,624.4 L424.3,624.4 L425.3,624.4 L426.3,624.4 L427.3,624.4 L428.3,624.4 L429.3,624.4 L430.3,624.4 L431.3,624.4 L432.3,624.4 L433.3,624.3 L434.3,624.3 L435.3,624.3 L436.3,624.3 L437.3,624.3 L438.3,624.3 L438.5,624.3" fill="none" stroke="#D42A2A" stroke-width="1.15" stroke-linejoin="round"/>
<path d="M170.5,725.9 L190.7,659.0 L202.5,623.2 L210.8,600.5 L217.3,590.0 L222.6,584.1 L227.1,580.6 L231.0,578.4 L234.4,576.9 L237.5,575.6 L240.3,574.8 L242.8,574.5 L245.1,574.5 L247.3,574.5 L249.3,574.5 L250.3,574.5 L251.3,574.6 L252.3,574.6 L253.3,574.8 L254.3,575.1 L255.3,575.4 L256.3,575.8 L257.3,576.2 L258.3,576.6 L259.3,577.0 L260.3,577.5 L261.3,577.9 L262.3,578.5 L263.3,579.1 L264.3,579.7 L265.3,580.4 L266.3,581.1 L267.3,581.7 L268.3,582.5 L269.3,583.3 L269.5,583.6 L270.3,584.4 L271.3,586.1 L272.3,587.8 L273.3,589.6 L274.3,591.4 L275.3,593.2 L276.3,595.1 L277.3,596.9 L278.3,598.7 L279.3,600.4 L280.3,602.2 L281.3,603.9 L282.3,605.6 L283.3,607.1 L284.3,608.5 L285.3,609.9 L286.3,611.3 L287.3,612.6 L288.3,613.8 L289.3,615.0 L290.3,616.0 L291.3,617.0 L292.3,618.0 L293.3,618.9 L294.3,619.7 L295.3,620.5 L296.3,621.3 L297.3,622.0 L298.3,622.7 L299.3,623.3 L300.3,623.8 L301.3,624.4 L302.3,624.9 L303.3,625.4 L304.3,625.8 L305.3,626.3 L306.3,626.7 L307.3,627.1 L308.3,627.4 L309.3,627.8 L310.3,628.1 L311.3,628.5 L312.3,628.8 L313.3,629.1 L314.3,629.4 L315.3,629.7 L316.3,629.9 L317.3,630.2 L318.3,630.4 L319.3,630.6 L320.3,630.8 L321.3,631.0 L322.3,631.2 L323.3,631.4 L324.3,631.5 L325.3,631.7 L326.3,631.9 L327.3,632.0 L328.3,632.1 L329.3,632.3 L330.3,632.4 L331.3,632.5 L332.3,632.6 L333.3,632.7 L334.3,632.8 L335.3,632.9 L336.3,633.0 L337.3,633.0 L338.3,633.1 L339.3,633.2 L340.3,633.3 L341.3,633.3 L342.3,633.4 L343.3,633.5 L344.3,633.5 L345.3,633.6 L346.3,633.6 L347.3,633.7 L348.3,633.7 L349.3,633.8 L350.3,633.8 L351.3,633.9 L352.3,634.0 L353.3,634.0 L354.3,634.1 L355.3,634.1 L356.3,634.2 L357.3,634.2 L358.3,634.3 L359.3,634.4 L360.3,634.4 L361.3,634.5 L362.3,634.5 L363.3,634.6 L364.3,634.6 L365.3,634.7 L366.3,634.8 L367.3,634.8 L368.3,634.9 L369.3,634.9 L370.3,635.0 L371.3,635.1 L372.3,635.1 L373.3,635.2 L374.3,635.2 L375.3,635.3 L376.3,635.4 L377.3,635.4 L378.3,635.5 L379.3,635.6 L380.3,635.6 L381.3,635.7 L382.3,635.7 L383.3,635.8 L384.3,635.8 L385.3,635.9 L386.3,635.9 L387.3,636.0 L388.3,636.0 L389.3,636.0 L390.3,636.1 L391.3,636.1 L392.3,636.1 L393.3,636.2 L394.3,636.2 L395.3,636.2 L396.3,636.2 L397.3,636.2 L398.3,636.2 L399.3,636.3 L400.3,636.3 L401.3,636.3 L402.3,636.3 L403.3,636.3 L404.3,636.3 L405.3,636.3 L406.3,636.4 L407.3,636.4 L408.3,636.4 L409.3,636.4 L410.3,636.4 L411.3,636.4 L412.3,636.4 L413.3,636.4 L414.3,636.4 L415.3,636.5 L416.3,636.5 L417.3,636.5 L418.3,636.5 L419.3,636.5 L420.3,636.5 L421.3,636.5 L422.3,636.5 L423.3,636.5 L424.3,636.5 L425.3,636.5 L426.3,636.5 L427.3,636.5 L428.3,636.6 L429.3,636.6 L430.3,636.6 L431.3,636.6 L432.3,636.6 L433.3,636.6 L434.3,636.6 L435.3,636.6 L436.3,636.6 L437.3,636.6 L438.3,636.6 L438.5,636.6" fill="none" stroke="#3C8D3C" stroke-width="1.15" stroke-dasharray="7.6,1.7,1.3,1.7" stroke-linejoin="round"/>
<path d="M170.5,725.9 L190.7,658.0 L202.5,621.2 L210.8,600.6 L217.3,589.9 L222.6,583.5 L227.1,579.5 L231.0,576.7 L234.4,574.8 L237.5,573.6 L240.3,572.7 L242.8,572.3 L245.1,572.3 L247.3,572.4 L249.3,572.5 L250.3,572.6 L251.3,572.6 L252.3,572.8 L253.3,573.0 L254.3,573.3 L255.3,573.6 L256.3,574.1 L257.3,574.5 L258.3,575.0 L259.3,575.5 L260.3,576.0 L261.3,576.6 L262.3,577.2 L263.3,577.9 L264.3,578.7 L265.3,579.4 L266.3,580.2 L267.3,581.1 L268.3,582.0 L269.3,582.9 L269.5,583.3 L270.3,584.5 L271.3,586.1 L272.3,587.9 L273.3,589.7 L274.3,591.5 L275.3,593.5 L276.3,595.4 L277.3,597.3 L278.3,599.2 L279.3,601.0 L280.3,602.8 L281.3,604.5 L282.3,606.1 L283.3,607.6 L284.3,609.1 L285.3,610.5 L286.3,611.8 L287.3,613.0 L288.3,614.2 L289.3,615.3 L290.3,616.3 L291.3,617.3 L292.3,618.2 L293.3,619.1 L294.3,619.9 L295.3,620.7 L296.3,621.4 L297.3,622.1 L298.3,622.7 L299.3,623.3 L300.3,623.9 L301.3,624.4 L302.3,624.9 L303.3,625.4 L304.3,625.8 L305.3,626.2 L306.3,626.6 L307.3,627.0 L308.3,627.4 L309.3,627.7 L310.3,628.1 L311.3,628.4 L312.3,628.7 L313.3,629.0 L314.3,629.3 L315.3,629.5 L316.3,629.8 L317.3,630.0 L318.3,630.3 L319.3,630.5 L320.3,630.7 L321.3,630.9 L322.3,631.1 L323.3,631.3 L324.3,631.5 L325.3,631.6 L326.3,631.8 L327.3,631.9 L328.3,632.1 L329.3,632.2 L330.3,632.4 L331.3,632.5 L332.3,632.6 L333.3,632.7 L334.3,632.8 L335.3,632.9 L336.3,633.0 L337.3,633.1 L338.3,633.2 L339.3,633.3 L340.3,633.4 L341.3,633.4 L342.3,633.5 L343.3,633.6 L344.3,633.6 L345.3,633.7 L346.3,633.8 L347.3,633.8 L348.3,633.9 L349.3,634.0 L350.3,634.0 L351.3,634.1 L352.3,634.2 L353.3,634.2 L354.3,634.3 L355.3,634.3 L356.3,634.4 L357.3,634.5 L358.3,634.5 L359.3,634.6 L360.3,634.7 L361.3,634.7 L362.3,634.8 L363.3,634.8 L364.3,634.9 L365.3,634.9 L366.3,635.0 L367.3,635.1 L368.3,635.1 L369.3,635.2 L370.3,635.2 L371.3,635.3 L372.3,635.4 L373.3,635.4 L374.3,635.5 L375.3,635.5 L376.3,635.6 L377.3,635.7 L378.3,635.7 L379.3,635.8 L380.3,635.8 L381.3,635.9 L382.3,635.9 L383.3,636.0 L384.3,636.0 L385.3,636.1 L386.3,636.1 L387.3,636.2 L388.3,636.2 L389.3,636.2 L390.3,636.3 L391.3,636.3 L392.3,636.3 L393.3,636.3 L394.3,636.4 L395.3,636.4 L396.3,636.4 L397.3,636.4 L398.3,636.4 L399.3,636.4 L400.3,636.5 L401.3,636.5 L402.3,636.5 L403.3,636.5 L404.3,636.5 L405.3,636.5 L406.3,636.5 L407.3,636.6 L408.3,636.6 L409.3,636.6 L410.3,636.6 L411.3,636.6 L412.3,636.6 L413.3,636.6 L414.3,636.6 L415.3,636.7 L416.3,636.7 L417.3,636.7 L418.3,636.7 L419.3,636.7 L420.3,636.7 L421.3,636.7 L422.3,636.7 L423.3,636.7 L424.3,636.7 L425.3,636.7 L426.3,636.7 L427.3,636.7 L428.3,636.8 L429.3,636.8 L430.3,636.8 L431.3,636.8 L432.3,636.8 L433.3,636.8 L434.3,636.8 L435.3,636.8 L436.3,636.8 L437.3,636.8 L438.3,636.8 L438.5,636.8" fill="none" stroke="#BA6CC4" stroke-width="1.15" stroke-dasharray="7.6,1.7,1.3,1.7" stroke-linejoin="round"/>
<path d="M170.5,725.9 L190.7,658.0 L202.5,621.2 L210.8,600.6 L217.3,589.8 L222.6,583.5 L227.1,579.8 L231.0,577.5 L234.4,576.3 L237.5,575.6 L240.3,575.4 L242.8,575.5 L245.1,575.7 L247.3,576.2 L249.3,576.7 L250.3,577.0 L251.3,577.4 L252.3,577.7 L253.3,578.1 L254.3,578.6 L255.3,579.2 L256.3,579.7 L257.3,580.4 L258.3,581.0 L259.3,581.7 L260.3,582.3 L261.3,583.1 L262.3,583.9 L263.3,584.8 L264.3,585.7 L265.3,586.6 L266.3,587.6 L267.3,588.6 L268.3,589.7 L269.3,590.8 L270.3,591.9 L271.3,593.1 L272.3,594.3 L273.3,595.5 L274.3,596.7 L275.3,598.0 L276.3,599.3 L277.3,600.6 L278.3,601.9 L279.3,603.2 L280.3,604.6 L281.3,605.9 L282.3,607.2 L283.3,608.6 L284.3,609.9 L285.3,611.2 L286.3,612.5 L287.3,613.8 L288.3,615.1 L289.3,616.4 L290.3,617.6 L291.3,618.8 L292.3,620.0 L293.3,621.1 L294.3,622.2 L295.3,623.3 L296.3,624.3 L297.3,625.3 L298.3,626.1 L299.3,626.9 L300.3,627.6 L301.3,628.3 L302.3,629.0 L303.3,629.7 L304.3,630.3 L305.3,630.8 L306.3,631.3 L307.3,631.8 L308.3,632.2 L309.3,632.6 L310.3,632.9 L311.3,633.3 L312.3,633.6 L313.3,633.9 L314.3,634.2 L315.3,634.5 L316.3,634.7 L317.3,634.9 L318.3,635.1 L319.3,635.2 L320.3,635.3 L321.3,635.4 L322.3,635.5 L323.3,635.6 L324.3,635.6 L325.3,635.7 L326.3,635.8 L327.3,635.8 L328.3,635.8 L329.3,635.8 L330.3,635.8 L331.3,635.8 L332.3,635.8 L333.3,635.8 L334.3,635.7 L335.3,635.6 L336.3,635.6 L337.3,635.5 L338.3,635.4 L339.3,635.3 L340.3,635.3 L341.3,635.2 L342.3,635.1 L343.3,635.0 L344.3,634.9 L345.3,634.8 L346.3,634.7 L347.3,634.6 L348.3,634.5 L349.3,634.5 L350.3,634.4 L351.3,634.3 L352.3,634.2 L353.3,634.2 L354.3,634.1 L355.3,634.0 L356.3,633.9 L357.3,633.9 L358.3,633.8 L359.3,633.8 L360.3,633.7 L361.3,633.7 L362.3,633.7 L363.3,633.7 L364.3,633.7 L365.3,633.7 L366.3,633.7 L367.3,633.7 L368.3,633.7 L369.3,633.7 L370.3,633.7 L371.3,633.7 L372.3,633.7 L373.3,633.7 L374.3,633.7 L375.3,633.7 L376.3,633.7 L377.3,633.7 L378.3,633.7 L379.3,633.7 L380.3,633.7 L381.3,633.7 L382.3,633.7 L383.3,633.7 L384.3,633.7 L385.3,633.8 L386.3,633.8 L387.3,633.8 L388.3,633.8 L389.3,633.8 L390.3,633.8 L391.3,633.8 L392.3,633.8 L393.3,633.8 L394.3,633.8 L395.3,633.8 L396.3,633.8 L397.3,633.8 L398.3,633.8 L399.3,633.8 L400.3,633.8 L401.3,633.8 L402.3,633.8 L403.3,633.8 L404.3,633.9 L405.3,633.9 L406.3,633.9 L407.3,633.9 L408.3,633.9 L409.3,633.9 L410.3,633.9 L411.3,633.9 L412.3,634.0 L413.3,634.0 L414.3,634.0 L415.3,634.0 L416.3,634.0 L417.3,634.0 L418.3,634.1 L419.3,634.1 L420.3,634.1 L421.3,634.1 L422.3,634.1 L423.3,634.2 L424.3,634.2 L425.3,634.2 L426.3,634.2 L427.3,634.2 L428.3,634.3 L429.3,634.3 L430.3,634.3 L431.3,634.3 L432.3,634.4 L433.3,634.4 L434.3,634.4 L435.3,634.4 L436.3,634.4 L437.3,634.5 L438.3,634.5 L438.5,634.5" fill="none" stroke="#000000" stroke-width="1.4" stroke-dasharray="7.6,1.7,1.3,1.7" stroke-linejoin="round"/>
<path d="M170.5,725.9 L190.7,660.5 L202.5,629.5 L210.8,617.0 L217.3,608.5 L222.6,603.9 L227.1,601.5 L231.0,600.1 L234.4,599.8 L237.5,599.9 L240.3,600.1 L242.8,600.7 L245.1,601.6 L247.3,602.6 L249.3,603.7 L250.3,604.3 L251.3,604.9 L252.3,605.6 L253.3,606.3 L254.3,607.0 L255.3,607.8 L256.3,608.7 L257.3,609.5 L258.3,610.4 L259.3,611.3 L260.3,612.2 L261.3,613.1 L262.3,614.0 L263.3,615.0 L264.3,616.0 L265.3,617.0 L266.3,618.0 L267.3,618.9 L268.3,619.9 L269.3,620.9 L270.3,621.9 L271.3,622.9 L272.3,623.9 L273.3,625.0 L274.3,626.0 L275.3,627.0 L276.3,628.1 L277.3,629.2 L278.3,630.4 L279.3,631.6 L280.3,632.8 L281.3,634.0 L282.3,635.3 L283.3,636.7 L284.3,638.0 L285.3,639.4 L286.3,640.7 L287.3,642.0 L288.3,643.3 L289.3,644.6 L290.3,645.9 L291.3,647.2 L292.3,648.4 L293.3,649.6 L294.3,650.7 L295.3,651.8 L296.3,652.7 L297.3,653.7 L298.3,654.6 L299.3,655.5 L300.3,656.3 L301.3,657.1 L302.3,657.8 L303.3,658.4 L304.3,659.0 L305.3,659.6 L306.3,660.1 L307.3,660.6 L308.3,661.1 L309.3,661.5 L310.3,661.9 L311.3,662.2 L312.3,662.4 L313.3,662.5 L314.3,662.7 L315.3,662.8 L316.3,662.9 L317.3,663.0 L318.3,663.1 L319.3,663.2 L320.3,663.2 L321.3,663.2 L322.3,663.2 L323.3,663.1 L324.3,662.8 L325.3,662.5 L326.3,662.0 L327.3,661.6 L328.3,661.0 L329.3,660.5 L330.3,659.9 L331.3,659.3 L332.3,658.6 L333.3,657.7 L334.3,656.8 L335.3,656.0 L336.3,655.1 L337.3,654.3 L338.3,653.4 L339.3,652.6 L340.3,651.9 L341.3,651.3 L342.3,650.8 L343.3,650.4 L344.3,649.9 L345.3,649.4 L346.3,648.9 L347.3,648.3 L348.3,647.8 L349.3,647.2 L350.3,646.6 L351.3,645.9 L352.3,645.1 L353.3,644.2 L354.3,643.0 L355.3,641.8 L356.3,640.5 L357.3,639.2 L358.3,637.9 L359.3,636.6 L360.3,635.5 L361.3,634.4 L362.3,633.7 L363.3,633.3 L364.3,633.1 L365.3,633.0 L366.3,632.8 L367.3,632.7 L368.3,632.6 L369.3,632.5 L370.3,632.4 L371.3,632.4 L372.3,632.4 L373.3,632.4 L374.3,632.4 L375.3,632.4 L376.3,632.4 L377.3,632.4 L378.3,632.4 L379.3,632.4 L380.3,632.5 L381.3,632.5 L382.3,632.5 L383.3,632.5 L384.3,632.6 L385.3,632.6 L386.3,632.6 L387.3,632.6 L388.3,632.7 L389.3,632.7 L390.3,632.7 L391.3,632.7 L392.3,632.8 L393.3,632.8 L394.3,632.8 L395.3,632.8 L396.3,632.8 L397.3,632.9 L398.3,632.9 L399.3,632.9 L400.3,632.9 L401.3,633.0 L402.3,633.0 L403.3,633.0 L404.3,633.1 L405.3,633.1 L406.3,633.1 L407.3,633.1 L408.3,633.2 L409.3,633.2 L410.3,633.2 L411.3,633.3 L412.3,633.3 L413.3,633.3 L414.3,633.3 L415.3,633.4 L416.3,633.4 L417.3,633.4 L418.3,633.5 L419.3,633.5 L420.3,633.5 L421.3,633.6 L422.3,633.6 L423.3,633.6 L424.3,633.7 L425.3,633.7 L426.3,633.7 L427.3,633.8 L428.3,633.8 L429.3,633.8 L430.3,633.9 L431.3,633.9 L432.3,634.0 L433.3,634.0 L434.3,634.0 L435.3,634.1 L436.3,634.1 L437.3,634.2 L438.3,634.2 L438.5,634.2" fill="none" stroke="#3346B0" stroke-width="1.15" stroke-dasharray="4.3,1.85" stroke-linejoin="round"/>
<path d="M253.4,560.4 V575.5 M250.4,560.4 h6.0 M250.4,575.5 h6.0" stroke="#9DCE6B" stroke-width="0.95" fill="none"/>
<rect x="250.8" y="565.5" width="5.2" height="5.2" fill="#8CC652"/>
<path d="M268.2,576.1 V589.4 M265.2,576.1 h6.0 M265.2,589.4 h6.0" stroke="#9DCE6B" stroke-width="0.95" fill="none"/>
<rect x="265.59999999999997" y="580.3" width="5.2" height="5.2" fill="#8CC652"/>
<path d="M278,580.6 V603 M275.0,580.6 h6.0 M275.0,603 h6.0" stroke="#9DCE6B" stroke-width="0.95" fill="none"/>
<rect x="275.4" y="589.1" width="5.2" height="5.2" fill="#8CC652"/>
<path d="M282.6,594.3 V604 M279.6,594.3 h6.0 M279.6,604 h6.0" stroke="#9DCE6B" stroke-width="0.95" fill="none"/>
<rect x="280.0" y="596.5" width="5.2" height="5.2" fill="#8CC652"/>
<path d="M269,600.6 V607.8 M266.0,600.6 h6.0 M266.0,607.8 h6.0" stroke="#5B6ABB" stroke-width="0.95" fill="none"/>
<path d="M269,601.2 L271.0,604.2 L269,607.2 L267.0,604.2 Z" fill="#3F50B0"/>
<path d="M280.3,610.4 V617.6 M277.3,610.4 h6.0 M277.3,617.6 h6.0" stroke="#5B6ABB" stroke-width="0.95" fill="none"/>
<path d="M280.3,611.0 L282.3,614 L280.3,617.0 L278.3,614 Z" fill="#3F50B0"/>
<path d="M294.4,605.2 V630.2 M291.4,605.2 h6.0 M291.4,630.2 h6.0" stroke="#DC4A4A" stroke-width="0.95" fill="none"/>
<path d="M290.4,617.7 H297.5 M290.4,615.5 v4.4 M297.5,615.5 v4.4" stroke="#DC4A4A" stroke-width="0.95" fill="none"/>
<path d="M294.4,614.7 L296.4,617.7 L294.4,620.7 L292.4,617.7 Z" fill="#D62B2B"/>
<path d="M308.7,627.4 V640.4 M305.7,627.4 h6.0 M305.7,640.4 h6.0" stroke="#DC4A4A" stroke-width="0.95" fill="none"/>
<path d="M306.4,634.8 H311.9 M306.4,632.5999999999999 v4.4 M311.9,632.5999999999999 v4.4" stroke="#DC4A4A" stroke-width="0.95" fill="none"/>
<path d="M308.7,631.8 L310.7,634.8 L308.7,637.8 L306.7,634.8 Z" fill="#D62B2B"/>
<path d="M325.8,633.9 V641.3 M322.8,633.9 h6.0 M322.8,641.3 h6.0" stroke="#DC4A4A" stroke-width="0.95" fill="none"/>
<path d="M324,637.1 H328 M324,634.9 v4.4 M328,634.9 v4.4" stroke="#DC4A4A" stroke-width="0.95" fill="none"/>
<path d="M325.8,634.1 L327.8,637.1 L325.8,640.1 L323.8,637.1 Z" fill="#D62B2B"/>
</g>
<line x1="257.0" y1="672.4" x2="274.1" y2="672.4" stroke="#F0A030" stroke-width="1.15"/>
<text x="280.00" y="675.30" font-size="8.59" text-anchor="start" textLength="39.56" lengthAdjust="spacingAndGlyphs" fill="#000" stroke="#000" stroke-width="0.1" >Tripathi99</text>
<line x1="257.0" y1="684.15" x2="274.1" y2="684.15" stroke="#D42A2A" stroke-width="1.15"/>
<text x="280.00" y="687.05" font-size="8.59" text-anchor="start" textLength="39.56" lengthAdjust="spacingAndGlyphs" fill="#000" stroke="#000" stroke-width="0.1" >Tripathi96</text>
<line x1="257.0" y1="695.9" x2="274.1" y2="695.9" stroke="#3C8D3C" stroke-width="1.15" stroke-dasharray="7.6,1.7,1.3,1.7"/>
<text x="280.00" y="698.80" font-size="8.59" text-anchor="start" textLength="14.14" lengthAdjust="spacingAndGlyphs" fill="#000" stroke="#000" stroke-width="0.1" >Kox</text>
<line x1="257.0" y1="707.65" x2="274.1" y2="707.65" stroke="#BA6CC4" stroke-width="1.15" stroke-dasharray="7.6,1.7,1.3,1.7"/>
<text x="280.00" y="710.55" font-size="8.59" text-anchor="start" textLength="20.02" lengthAdjust="spacingAndGlyphs" fill="#000" stroke="#000" stroke-width="0.1" >Shen</text>
<line x1="257.0" y1="719.4" x2="274.1" y2="719.4" stroke="#000000" stroke-width="1.4" stroke-dasharray="7.6,1.7,1.3,1.7"/>
<text x="280.00" y="722.30" font-size="8.59" text-anchor="start" textLength="37.03" lengthAdjust="spacingAndGlyphs" fill="#000" stroke="#000" stroke-width="0.1" >Kox-Shen</text>
<line x1="337.0" y1="672.4" x2="352.8" y2="672.4" stroke="#3346B0" stroke-width="1.15" stroke-dasharray="4.3,1.85"/>
<text x="359.30" y="675.30" font-size="8.59" text-anchor="start" textLength="67.54" lengthAdjust="spacingAndGlyphs" fill="#000" stroke="#000" stroke-width="0.1" >Hybrid-Kurotama</text>
<path d="M340.9,684.15 H349.1 M345.0,680.05 V688.25" stroke="#DE5555" stroke-width="0.8" fill="none"/>
<path d="M341.79999999999995,680.05 H348.20000000000005 M341.79999999999995,688.25 H348.20000000000005 M340.9,680.9499999999999 V687.35 M349.1,680.9499999999999 V687.35" stroke="#DE5555" stroke-width="1" fill="none"/>
<path d="M345.0,681.15 L347.0,684.15 L345.0,687.15 L343.0,684.15 Z" fill="#D62B2B"/>
<text x="359.30" y="687.05" font-size="8.59" text-anchor="start" textLength="41.60" lengthAdjust="spacingAndGlyphs" fill="#000" stroke="#000" stroke-width="0.1" >Horst2019</text>
<path d="M340.9,695.9 H349.1 M345.0,691.8 V700.0" stroke="#A3D174" stroke-width="0.8" fill="none"/>
<path d="M341.79999999999995,691.8 H348.20000000000005 M341.79999999999995,700.0 H348.20000000000005 M340.9,692.6999999999999 V699.1 M349.1,692.6999999999999 V699.1" stroke="#A3D174" stroke-width="1" fill="none"/>
<rect x="342.4" y="693.3" width="5.2" height="5.2" fill="#8CC652"/>
<text x="359.30" y="698.80" font-size="8.59" text-anchor="start" textLength="71.63" lengthAdjust="spacingAndGlyphs" fill="#000" stroke="#000" stroke-width="0.1" >Ingemarsson2000</text>
<path d="M340.9,707.65 H349.1 M345.0,703.55 V711.75" stroke="#6573BF" stroke-width="0.8" fill="none"/>
<path d="M341.79999999999995,703.55 H348.20000000000005 M341.79999999999995,711.75 H348.20000000000005 M340.9,704.4499999999999 V710.85 M349.1,704.4499999999999 V710.85" stroke="#6573BF" stroke-width="1" fill="none"/>
<path d="M345.0,704.65 L347.0,707.65 L345.0,710.65 L343.0,707.65 Z" fill="#3F50B0"/>
<text x="359.30" y="710.55" font-size="8.59" text-anchor="start" textLength="48.78" lengthAdjust="spacingAndGlyphs" fill="#000" stroke="#000" stroke-width="0.1" >Warner1996</text>
</svg></body></html>
